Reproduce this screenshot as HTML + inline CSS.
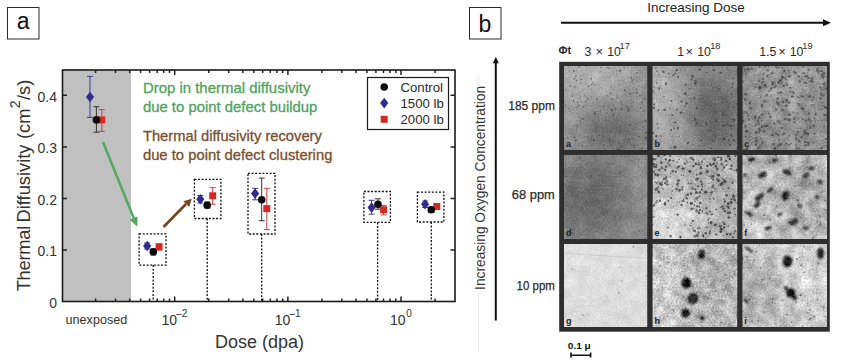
<!DOCTYPE html>
<html><head><meta charset="utf-8"><style>
html,body{margin:0;padding:0;background:#fff;}
svg{display:block;font-family:"Liberation Sans", sans-serif;}
</style></head><body>
<svg width="844" height="362" viewBox="0 0 844 362">
<rect x="7.5" y="7.5" width="31.5" height="31.5" fill="#fff" stroke="#2a2a2a" stroke-width="1"/>
<text x="23.2" y="29.4" font-size="23" text-anchor="middle" fill="#111">a</text>
<rect x="469.5" y="7.5" width="31.5" height="31.5" fill="#fff" stroke="#2a2a2a" stroke-width="1"/>
<text x="484.8" y="31.5" font-size="23" text-anchor="middle" fill="#111">b</text>
<rect x="62.5" y="70.0" width="68.5" height="231.5" fill="#c0c0c0"/>
<path d="M95.6,301.5v-3M95.6,70.0v3M115.5,301.5v-3M115.5,70.0v3M129.7,301.5v-3M129.7,70.0v3M140.6,301.5v-3M140.6,70.0v3M149.6,301.5v-3M149.6,70.0v3M157.2,301.5v-3M157.2,70.0v3M163.7,301.5v-3M163.7,70.0v3M169.5,301.5v-3M169.5,70.0v3M174.7,301.5v-5M174.7,70.0v5M208.8,301.5v-3M208.8,70.0v3M228.7,301.5v-3M228.7,70.0v3M242.8,301.5v-3M242.8,70.0v3M253.8,301.5v-3M253.8,70.0v3M262.7,301.5v-3M262.7,70.0v3M270.3,301.5v-3M270.3,70.0v3M276.9,301.5v-3M276.9,70.0v3M282.7,301.5v-3M282.7,70.0v3M287.9,301.5v-5M287.9,70.0v5M321.9,301.5v-3M321.9,70.0v3M341.8,301.5v-3M341.8,70.0v3M356.0,301.5v-3M356.0,70.0v3M366.9,301.5v-3M366.9,70.0v3M375.9,301.5v-3M375.9,70.0v3M383.5,301.5v-3M383.5,70.0v3M390.0,301.5v-3M390.0,70.0v3M395.8,301.5v-3M395.8,70.0v3M401.0,301.5v-5M401.0,70.0v5M435.1,301.5v-3M435.1,70.0v3M62.5,249.9h4.5M455.0,249.9h-4.5M62.5,198.4h4.5M455.0,198.4h-4.5M62.5,146.9h4.5M455.0,146.9h-4.5M62.5,95.3h4.5M455.0,95.3h-4.5" stroke="#222" stroke-width="1.5" fill="none"/>
<rect x="139.1" y="233.8" width="26.9" height="31.3" fill="none" stroke="#111" stroke-width="1.3" stroke-dasharray="2,1.6"/>
<path d="M153.2,265.1V301.5" stroke="#111" stroke-width="1.3" stroke-dasharray="2,1.6"/>
<rect x="194.4" y="179.4" width="26.5" height="39.1" fill="none" stroke="#111" stroke-width="1.3" stroke-dasharray="2,1.6"/>
<path d="M207.2,218.5V301.5" stroke="#111" stroke-width="1.3" stroke-dasharray="2,1.6"/>
<rect x="248" y="173.3" width="27.0" height="60.7" fill="none" stroke="#111" stroke-width="1.3" stroke-dasharray="2,1.6"/>
<path d="M261.7,234V301.5" stroke="#111" stroke-width="1.3" stroke-dasharray="2,1.6"/>
<rect x="363.9" y="191.5" width="26.5" height="30.9" fill="none" stroke="#111" stroke-width="1.3" stroke-dasharray="2,1.6"/>
<path d="M377.6,222.4V301.5" stroke="#111" stroke-width="1.3" stroke-dasharray="2,1.6"/>
<rect x="417.4" y="192.1" width="26.5" height="29.9" fill="none" stroke="#111" stroke-width="1.3" stroke-dasharray="2,1.6"/>
<path d="M431.3,222V301.5" stroke="#111" stroke-width="1.3" stroke-dasharray="2,1.6"/>
<path d="M90,76.4V117.3M87.0,76.4h6M87.0,117.3h6" stroke="#3c3a9a" stroke-width="1" fill="none"/>
<path d="M101.8,109.6V131.4M98.8,109.6h6M98.8,131.4h6" stroke="#c84040" stroke-width="1" fill="none"/>
<path d="M96.4,106.7V132.2M93.4,106.7h6M93.4,132.2h6" stroke="#333" stroke-width="1" fill="none"/>
<path d="M90,91.7L94.1,97L90,102.3L85.9,97Z" fill="#2f2c8c"/>
<rect x="98.3" y="116.4" width="7" height="7" fill="#d42a22"/>
<circle cx="96.4" cy="119.9" r="3.8" fill="#0a0a0a"/>
<path d="M147.2,243V249M144.2,243h6M144.2,249h6" stroke="#3c3a9a" stroke-width="1" fill="none"/>
<path d="M159.1,244V250M156.1,244h6M156.1,250h6" stroke="#c84040" stroke-width="1" fill="none"/>
<path d="M153.3,249V255M150.3,249h6M150.3,255h6" stroke="#333" stroke-width="1" fill="none"/>
<path d="M147.2,240.7L151.29999999999998,246L147.2,251.3L143.1,246Z" fill="#2f2c8c"/>
<rect x="155.6" y="243.3" width="7" height="7" fill="#d42a22"/>
<circle cx="153.3" cy="251.8" r="3.8" fill="#0a0a0a"/>
<path d="M200.3,195.5V203M197.3,195.5h6M197.3,203h6" stroke="#3c3a9a" stroke-width="1" fill="none"/>
<path d="M212.7,187.6V204.2M209.7,187.6h6M209.7,204.2h6" stroke="#c84040" stroke-width="1" fill="none"/>
<path d="M207.2,202V208M204.2,202h6M204.2,208h6" stroke="#333" stroke-width="1" fill="none"/>
<path d="M200.3,194.0L204.4,199.3L200.3,204.60000000000002L196.20000000000002,199.3Z" fill="#2f2c8c"/>
<rect x="209.2" y="192.3" width="7" height="7" fill="#d42a22"/>
<circle cx="207.2" cy="205.3" r="3.8" fill="#0a0a0a"/>
<path d="M255.1,188.3V199.8M252.1,188.3h6M252.1,199.8h6" stroke="#3c3a9a" stroke-width="1" fill="none"/>
<path d="M266.8,188.3V229.6M263.8,188.3h6M263.8,229.6h6" stroke="#c84040" stroke-width="1" fill="none"/>
<path d="M261.7,178.1V220.7M258.7,178.1h6M258.7,220.7h6" stroke="#333" stroke-width="1" fill="none"/>
<path d="M255.1,188.29999999999998L259.2,193.6L255.1,198.9L251.0,193.6Z" fill="#2f2c8c"/>
<rect x="263.3" y="205.1" width="7" height="7" fill="#d42a22"/>
<circle cx="261.7" cy="199.8" r="3.8" fill="#0a0a0a"/>
<path d="M371.6,200.3V214.2M368.6,200.3h6M368.6,214.2h6" stroke="#3c3a9a" stroke-width="1" fill="none"/>
<path d="M383.6,205.4V214.9M380.6,205.4h6M380.6,214.9h6" stroke="#c84040" stroke-width="1" fill="none"/>
<path d="M378,198.8V209.2M375.0,198.8h6M375.0,209.2h6" stroke="#333" stroke-width="1" fill="none"/>
<path d="M371.6,202.29999999999998L375.70000000000005,207.6L371.6,212.9L367.5,207.6Z" fill="#2f2c8c"/>
<rect x="380.1" y="206.3" width="7" height="7" fill="#d42a22"/>
<circle cx="378" cy="204.3" r="3.8" fill="#0a0a0a"/>
<path d="M425.1,201V207.5M422.1,201h6M422.1,207.5h6" stroke="#3c3a9a" stroke-width="1" fill="none"/>
<path d="M436.8,204V209M433.8,204h6M433.8,209h6" stroke="#c84040" stroke-width="1" fill="none"/>
<path d="M431.3,207V212.5M428.3,207h6M428.3,212.5h6" stroke="#333" stroke-width="1" fill="none"/>
<path d="M425.1,199.0L429.20000000000005,204.3L425.1,209.60000000000002L421.0,204.3Z" fill="#2f2c8c"/>
<rect x="433.3" y="203.0" width="7" height="7" fill="#d42a22"/>
<circle cx="431.3" cy="209.8" r="3.8" fill="#0a0a0a"/>
<rect x="62.5" y="70.0" width="392.5" height="231.5" fill="none" stroke="#1a1a1a" stroke-width="1.6"/>
<path d="M103,142L134.5,220" stroke="#52a85e" stroke-width="2.5"/>
<path d="M137.2,226.5L129.5,219.5L137.5,216.5Z" fill="#52a85e"/>
<path d="M163.5,227L186,204" stroke="#72441f" stroke-width="2.6"/>
<path d="M191.8,198.7L183.3,201.2L189.2,207.1Z" fill="#72441f"/>
<rect x="367.5" y="77.5" width="81" height="52" fill="#fff" stroke="#1a1a1a" stroke-width="1.2"/>
<circle cx="384.2" cy="87" r="3.8" fill="#0a0a0a"/>
<path d="M384.2,97.8L388.3,103.1L384.2,108.39999999999999L380.09999999999997,103.1Z" fill="#2f2c8c"/>
<rect x="380.7" y="115.8" width="7" height="7" fill="#d42a22"/>
<text x="400.5" y="91.8" font-size="13.2" fill="#2a2a2a">Control</text>
<text x="400.5" y="107.9" font-size="13.2" fill="#2a2a2a">1500 lb</text>
<text x="400.5" y="124.1" font-size="13.2" fill="#2a2a2a">2000 lb</text>
<text x="142.9" y="93.1" font-size="14.3" fill="#4fa35c" stroke="#4fa35c" stroke-width="0.3" textLength="167.5" lengthAdjust="spacingAndGlyphs">Drop in thermal diffusivity</text>
<text x="142.9" y="112.2" font-size="14.3" fill="#4fa35c" stroke="#4fa35c" stroke-width="0.3" textLength="174.5" lengthAdjust="spacingAndGlyphs">due to point defect buildup</text>
<text x="142.9" y="140.8" font-size="14.3" fill="#7a4f2e" stroke="#7a4f2e" stroke-width="0.3" textLength="179" lengthAdjust="spacingAndGlyphs">Thermal diffusivity recovery</text>
<text x="142.9" y="160.2" font-size="14.3" fill="#7a4f2e" stroke="#7a4f2e" stroke-width="0.3" textLength="189.5" lengthAdjust="spacingAndGlyphs">due to point defect clustering</text>
<text x="57" y="307.8" font-size="14" text-anchor="end" fill="#333">0</text>
<text x="57" y="256.2" font-size="14" text-anchor="end" fill="#333">0.1</text>
<text x="57" y="204.7" font-size="14" text-anchor="end" fill="#333">0.2</text>
<text x="57" y="153.2" font-size="14" text-anchor="end" fill="#333">0.3</text>
<text x="57" y="101.6" font-size="14" text-anchor="end" fill="#333">0.4</text>
<text transform="translate(29.6,291.2) rotate(-90)" font-size="18.3" fill="#333"><tspan x="-0.1" textLength="65.6" lengthAdjust="spacing">Thermal</tspan><tspan x="68.8">Diffusivity</tspan><tspan x="152.2">(cm</tspan><tspan font-size="14.3" dy="-9.3" dx="0.3">2</tspan><tspan dy="9.3" dx="0.3">/s)</tspan></text>
<text x="65.6" y="323.5" font-size="12.6" fill="#333">unexposed</text>
<text x="161.5" y="325.2" font-size="14" fill="#333">10<tspan font-size="10" dy="-8" dx="-0.8">–2</tspan></text>
<text x="274.7" y="325.2" font-size="14" fill="#333">10<tspan font-size="10" dy="-8" dx="-0.8">–1</tspan></text>
<text x="390.0" y="325.2" font-size="14" fill="#333">10<tspan font-size="10" dy="-8" dx="0.6">0</tspan></text>
<text x="215" y="347.5" font-size="18" fill="#333">Dose (dpa)</text>
<text x="696" y="11.8" font-size="13.5" text-anchor="middle" fill="#222">Increasing Dose</text>
<path d="M561,22.8H825" stroke="#111" stroke-width="2"/><path d="M831,22.8L823,19.3L823,26.3Z" fill="#111"/>
<path d="M495.8,320.5V62" stroke="#111" stroke-width="2"/><path d="M495.8,56.8L492.8,63.2L498.8,63.2Z" fill="#111"/><path d="M478.5,293V352M478.5,75V86" stroke="#e4e4e4" stroke-width="0.8"/>
<text transform="translate(485,289.9) rotate(-90)" font-size="13.75" fill="#333">Increasing Oxygen Concentration</text>
<text x="558.6" y="53.8" font-size="11" font-weight="bold" fill="#2a2a2a">Φt</text>
<text x="584.4" y="55.7" font-size="12.3" fill="#2a2a2a" text-anchor="start" >3</text>
<text x="595.6" y="55.5" font-size="13" fill="#2a2a2a" text-anchor="start" >×</text>
<text x="607.2" y="55.7" font-size="12.3" fill="#2a2a2a" text-anchor="start" >10</text>
<text x="619.6" y="49.3" font-size="9.2" fill="#2a2a2a" text-anchor="start" >17</text>
<text x="677.3" y="55.7" font-size="12.3" fill="#2a2a2a" text-anchor="start" >1</text>
<text x="685.4" y="55.5" font-size="13" fill="#2a2a2a" text-anchor="start" >×</text>
<text x="697.2" y="55.7" font-size="12.3" fill="#2a2a2a" text-anchor="start" >10</text>
<text x="710.2" y="49.3" font-size="9.2" fill="#2a2a2a" text-anchor="start" >18</text>
<text x="759.2" y="55.7" font-size="12.3" fill="#2a2a2a" text-anchor="start" >1.5</text>
<text x="778.2" y="55.5" font-size="13" fill="#2a2a2a" text-anchor="start" >×</text>
<text x="789.7" y="55.7" font-size="12.3" fill="#2a2a2a" text-anchor="start" >10</text>
<text x="802.3" y="49.3" font-size="9.2" fill="#2a2a2a" text-anchor="start" >19</text>
<text x="508.3" y="109.5" font-size="12.5" fill="#2a2a2a" stroke="#2a2a2a" stroke-width="0.25" textLength="46.6" lengthAdjust="spacingAndGlyphs">185 ppm</text>
<text x="511.8" y="198.6" font-size="12.5" fill="#2a2a2a" stroke="#2a2a2a" stroke-width="0.25" textLength="43" lengthAdjust="spacingAndGlyphs">68 ppm</text>
<text x="516.6" y="290.3" font-size="12.5" fill="#2a2a2a" stroke="#2a2a2a" stroke-width="0.25" textLength="38.2" lengthAdjust="spacingAndGlyphs">10 ppm</text>
<text x="567.8" y="348.7" font-size="9.6" font-weight="bold" fill="#111" textLength="23" lengthAdjust="spacingAndGlyphs">0.1 μ</text>
<path d="M571,355.3H590.6M571,352.4V357.4M590.6,352.4V357.4" stroke="#111" stroke-width="1.6"/>
<rect x="559.2" y="61.8" width="270.6" height="269.9" fill="#2e2e2e"/>
<defs><filter id="b12" x="-50%" y="-50%" width="200%" height="200%"><feGaussianBlur stdDeviation="12"/></filter><filter id="b1" x="-50%" y="-50%" width="200%" height="200%"><feGaussianBlur stdDeviation="0.8"/></filter><filter id="b05" x="-50%" y="-50%" width="200%" height="200%"><feGaussianBlur stdDeviation="0.65"/></filter><clipPath id="c00"><rect x="564" y="66" width="83.5" height="84"/></clipPath><filter id="t00" x="0" y="0" width="100%" height="100%" color-interpolation-filters="sRGB"><feTurbulence type="fractalNoise" baseFrequency="0.55" numOctaves="2" seed="3" result="t1"/><feColorMatrix in="t1" type="matrix" values="1 0 0 0 0 1 0 0 0 0 1 0 0 0 0 0 0 0 0 1" result="n0"/><feGaussianBlur in="n0" stdDeviation="0.45" result="n1"/><feTurbulence type="fractalNoise" baseFrequency="0.09" numOctaves="3" seed="14" result="t2"/><feColorMatrix in="t2" type="matrix" values="1 0 0 0 0 1 0 0 0 0 1 0 0 0 0 0 0 0 0 1" result="n2"/><feComposite in="SourceGraphic" in2="n1" operator="arithmetic" k1="0" k2="1" k3="0.2" k4="-0.1" result="s1"/><feComposite in="s1" in2="n2" operator="arithmetic" k1="0" k2="1" k3="0.15" k4="-0.075" result="s2"/><feGaussianBlur in="s2" stdDeviation="0.45"/></filter><clipPath id="c01"><rect x="652.5" y="66" width="85.0" height="84"/></clipPath><filter id="t01" x="0" y="0" width="100%" height="100%" color-interpolation-filters="sRGB"><feTurbulence type="fractalNoise" baseFrequency="0.55" numOctaves="2" seed="4" result="t1"/><feColorMatrix in="t1" type="matrix" values="1 0 0 0 0 1 0 0 0 0 1 0 0 0 0 0 0 0 0 1" result="n0"/><feGaussianBlur in="n0" stdDeviation="0.45" result="n1"/><feTurbulence type="fractalNoise" baseFrequency="0.09" numOctaves="3" seed="15" result="t2"/><feColorMatrix in="t2" type="matrix" values="1 0 0 0 0 1 0 0 0 0 1 0 0 0 0 0 0 0 0 1" result="n2"/><feComposite in="SourceGraphic" in2="n1" operator="arithmetic" k1="0" k2="1" k3="0.2" k4="-0.1" result="s1"/><feComposite in="s1" in2="n2" operator="arithmetic" k1="0" k2="1" k3="0.15" k4="-0.075" result="s2"/><feGaussianBlur in="s2" stdDeviation="0.45"/></filter><clipPath id="c02"><rect x="742.3" y="66" width="84.70000000000005" height="84"/></clipPath><filter id="t02" x="0" y="0" width="100%" height="100%" color-interpolation-filters="sRGB"><feTurbulence type="fractalNoise" baseFrequency="0.55" numOctaves="2" seed="5" result="t1"/><feColorMatrix in="t1" type="matrix" values="1 0 0 0 0 1 0 0 0 0 1 0 0 0 0 0 0 0 0 1" result="n0"/><feGaussianBlur in="n0" stdDeviation="0.45" result="n1"/><feTurbulence type="fractalNoise" baseFrequency="0.09" numOctaves="3" seed="16" result="t2"/><feColorMatrix in="t2" type="matrix" values="1 0 0 0 0 1 0 0 0 0 1 0 0 0 0 0 0 0 0 1" result="n2"/><feComposite in="SourceGraphic" in2="n1" operator="arithmetic" k1="0" k2="1" k3="0.25" k4="-0.125" result="s1"/><feComposite in="s1" in2="n2" operator="arithmetic" k1="0" k2="1" k3="0.3" k4="-0.15" result="s2"/><feGaussianBlur in="s2" stdDeviation="0.45"/></filter><clipPath id="c10"><rect x="564" y="154.8" width="83.5" height="84.19999999999999"/></clipPath><filter id="t10" x="0" y="0" width="100%" height="100%" color-interpolation-filters="sRGB"><feTurbulence type="fractalNoise" baseFrequency="0.55" numOctaves="2" seed="6" result="t1"/><feColorMatrix in="t1" type="matrix" values="1 0 0 0 0 1 0 0 0 0 1 0 0 0 0 0 0 0 0 1" result="n0"/><feGaussianBlur in="n0" stdDeviation="0.45" result="n1"/><feTurbulence type="fractalNoise" baseFrequency="0.09" numOctaves="3" seed="17" result="t2"/><feColorMatrix in="t2" type="matrix" values="1 0 0 0 0 1 0 0 0 0 1 0 0 0 0 0 0 0 0 1" result="n2"/><feComposite in="SourceGraphic" in2="n1" operator="arithmetic" k1="0" k2="1" k3="0.2" k4="-0.1" result="s1"/><feComposite in="s1" in2="n2" operator="arithmetic" k1="0" k2="1" k3="0.15" k4="-0.075" result="s2"/><feGaussianBlur in="s2" stdDeviation="0.45"/></filter><clipPath id="c11"><rect x="652.5" y="154.8" width="85.0" height="84.19999999999999"/></clipPath><filter id="t11" x="0" y="0" width="100%" height="100%" color-interpolation-filters="sRGB"><feTurbulence type="fractalNoise" baseFrequency="0.55" numOctaves="2" seed="7" result="t1"/><feColorMatrix in="t1" type="matrix" values="1 0 0 0 0 1 0 0 0 0 1 0 0 0 0 0 0 0 0 1" result="n0"/><feGaussianBlur in="n0" stdDeviation="0.45" result="n1"/><feTurbulence type="fractalNoise" baseFrequency="0.09" numOctaves="3" seed="18" result="t2"/><feColorMatrix in="t2" type="matrix" values="1 0 0 0 0 1 0 0 0 0 1 0 0 0 0 0 0 0 0 1" result="n2"/><feComposite in="SourceGraphic" in2="n1" operator="arithmetic" k1="0" k2="1" k3="0.3" k4="-0.15" result="s1"/><feComposite in="s1" in2="n2" operator="arithmetic" k1="0" k2="1" k3="0.3" k4="-0.15" result="s2"/><feGaussianBlur in="s2" stdDeviation="0.45"/></filter><clipPath id="c12"><rect x="742.3" y="154.8" width="84.70000000000005" height="84.19999999999999"/></clipPath><filter id="t12" x="0" y="0" width="100%" height="100%" color-interpolation-filters="sRGB"><feTurbulence type="fractalNoise" baseFrequency="0.55" numOctaves="2" seed="8" result="t1"/><feColorMatrix in="t1" type="matrix" values="1 0 0 0 0 1 0 0 0 0 1 0 0 0 0 0 0 0 0 1" result="n0"/><feGaussianBlur in="n0" stdDeviation="0.45" result="n1"/><feTurbulence type="fractalNoise" baseFrequency="0.09" numOctaves="3" seed="19" result="t2"/><feColorMatrix in="t2" type="matrix" values="1 0 0 0 0 1 0 0 0 0 1 0 0 0 0 0 0 0 0 1" result="n2"/><feComposite in="SourceGraphic" in2="n1" operator="arithmetic" k1="0" k2="1" k3="0.3" k4="-0.15" result="s1"/><feComposite in="s1" in2="n2" operator="arithmetic" k1="0" k2="1" k3="0.45" k4="-0.225" result="s2"/><feGaussianBlur in="s2" stdDeviation="0.45"/></filter><clipPath id="c20"><rect x="564" y="244" width="83.5" height="83"/></clipPath><filter id="t20" x="0" y="0" width="100%" height="100%" color-interpolation-filters="sRGB"><feTurbulence type="fractalNoise" baseFrequency="0.55" numOctaves="2" seed="9" result="t1"/><feColorMatrix in="t1" type="matrix" values="1 0 0 0 0 1 0 0 0 0 1 0 0 0 0 0 0 0 0 1" result="n0"/><feGaussianBlur in="n0" stdDeviation="0.45" result="n1"/><feTurbulence type="fractalNoise" baseFrequency="0.09" numOctaves="3" seed="20" result="t2"/><feColorMatrix in="t2" type="matrix" values="1 0 0 0 0 1 0 0 0 0 1 0 0 0 0 0 0 0 0 1" result="n2"/><feComposite in="SourceGraphic" in2="n1" operator="arithmetic" k1="0" k2="1" k3="0.15" k4="-0.075" result="s1"/><feComposite in="s1" in2="n2" operator="arithmetic" k1="0" k2="1" k3="0.12" k4="-0.06" result="s2"/><feGaussianBlur in="s2" stdDeviation="0.45"/></filter><clipPath id="c21"><rect x="652.5" y="244" width="85.0" height="83"/></clipPath><filter id="t21" x="0" y="0" width="100%" height="100%" color-interpolation-filters="sRGB"><feTurbulence type="fractalNoise" baseFrequency="0.55" numOctaves="2" seed="10" result="t1"/><feColorMatrix in="t1" type="matrix" values="1 0 0 0 0 1 0 0 0 0 1 0 0 0 0 0 0 0 0 1" result="n0"/><feGaussianBlur in="n0" stdDeviation="0.45" result="n1"/><feTurbulence type="fractalNoise" baseFrequency="0.09" numOctaves="3" seed="21" result="t2"/><feColorMatrix in="t2" type="matrix" values="1 0 0 0 0 1 0 0 0 0 1 0 0 0 0 0 0 0 0 1" result="n2"/><feComposite in="SourceGraphic" in2="n1" operator="arithmetic" k1="0" k2="1" k3="0.4" k4="-0.2" result="s1"/><feComposite in="s1" in2="n2" operator="arithmetic" k1="0" k2="1" k3="0.45" k4="-0.225" result="s2"/><feGaussianBlur in="s2" stdDeviation="0.45"/></filter><clipPath id="c22"><rect x="742.3" y="244" width="84.70000000000005" height="83"/></clipPath><filter id="t22" x="0" y="0" width="100%" height="100%" color-interpolation-filters="sRGB"><feTurbulence type="fractalNoise" baseFrequency="0.55" numOctaves="2" seed="11" result="t1"/><feColorMatrix in="t1" type="matrix" values="1 0 0 0 0 1 0 0 0 0 1 0 0 0 0 0 0 0 0 1" result="n0"/><feGaussianBlur in="n0" stdDeviation="0.45" result="n1"/><feTurbulence type="fractalNoise" baseFrequency="0.09" numOctaves="3" seed="22" result="t2"/><feColorMatrix in="t2" type="matrix" values="1 0 0 0 0 1 0 0 0 0 1 0 0 0 0 0 0 0 0 1" result="n2"/><feComposite in="SourceGraphic" in2="n1" operator="arithmetic" k1="0" k2="1" k3="0.3" k4="-0.15" result="s1"/><feComposite in="s1" in2="n2" operator="arithmetic" k1="0" k2="1" k3="0.35" k4="-0.175" result="s2"/><feGaussianBlur in="s2" stdDeviation="0.45"/></filter></defs>
<g clip-path="url(#c00)"><g filter="url(#t00)"><rect x="564" y="66" width="83.5" height="84" fill="#929292"/><g filter="url(#b12)"><ellipse cx="589.0" cy="70.2" rx="41.8" ry="25.2" fill="#b4b4b4" opacity="0.95"/><ellipse cx="564.0" cy="91.2" rx="16.7" ry="33.6" fill="#aaaaaa" opacity="0.7"/><ellipse cx="614.1" cy="133.2" rx="33.4" ry="25.2" fill="#6c6c6c" opacity="0.95"/><ellipse cx="643.3" cy="99.6" rx="16.7" ry="25.2" fill="#8a8a8a" opacity="0.6"/></g><g fill="#3a3a3a" opacity="0.6" filter="url(#b05)"><circle cx="591.0" cy="78.7" r="0.86"/><circle cx="570.0" cy="111.0" r="0.75"/><circle cx="568.8" cy="108.6" r="0.61"/><circle cx="600.2" cy="71.9" r="0.64"/><circle cx="599.4" cy="135.5" r="0.65"/><circle cx="582.6" cy="118.7" r="0.98"/><circle cx="612.2" cy="99.3" r="0.99"/><circle cx="567.9" cy="138.1" r="0.72"/><circle cx="576.0" cy="75.9" r="0.72"/><circle cx="632.1" cy="81.2" r="0.83"/><circle cx="617.3" cy="97.3" r="0.82"/><circle cx="569.2" cy="71.0" r="0.68"/><circle cx="620.8" cy="101.9" r="0.73"/><circle cx="612.9" cy="104.1" r="0.72"/><circle cx="630.3" cy="124.7" r="0.70"/><circle cx="612.0" cy="110.1" r="0.95"/><circle cx="624.9" cy="90.2" r="0.99"/><circle cx="573.9" cy="101.1" r="0.90"/><circle cx="576.7" cy="107.1" r="0.62"/><circle cx="619.8" cy="130.2" r="0.83"/><circle cx="637.1" cy="92.4" r="0.88"/><circle cx="613.6" cy="114.7" r="0.78"/><circle cx="634.1" cy="145.4" r="0.79"/><circle cx="619.5" cy="71.1" r="0.88"/><circle cx="618.0" cy="149.4" r="0.93"/><circle cx="587.8" cy="98.4" r="0.87"/><circle cx="565.9" cy="104.8" r="0.67"/><circle cx="573.8" cy="71.0" r="0.91"/><circle cx="574.8" cy="86.8" r="0.76"/><circle cx="636.8" cy="72.8" r="0.78"/><circle cx="609.9" cy="140.2" r="0.93"/><circle cx="636.1" cy="89.4" r="0.77"/><circle cx="594.0" cy="140.3" r="0.98"/><circle cx="576.6" cy="80.8" r="0.69"/><circle cx="583.5" cy="106.7" r="0.84"/><circle cx="585.9" cy="66.3" r="0.77"/><circle cx="594.8" cy="113.6" r="0.98"/><circle cx="621.7" cy="109.3" r="0.85"/><circle cx="620.5" cy="70.5" r="0.96"/><circle cx="629.1" cy="139.5" r="0.92"/><circle cx="596.8" cy="99.5" r="0.64"/><circle cx="617.0" cy="71.2" r="0.63"/><circle cx="581.4" cy="79.6" r="0.74"/><circle cx="568.4" cy="66.0" r="0.66"/><circle cx="572.5" cy="96.5" r="0.61"/><circle cx="637.0" cy="117.6" r="0.66"/><circle cx="585.1" cy="95.2" r="0.75"/><circle cx="574.3" cy="137.3" r="1.00"/><circle cx="602.9" cy="106.6" r="0.63"/><circle cx="572.5" cy="94.8" r="0.71"/><circle cx="633.2" cy="79.6" r="0.61"/><circle cx="643.4" cy="110.4" r="0.66"/><circle cx="609.4" cy="68.3" r="0.81"/><circle cx="645.7" cy="138.5" r="0.88"/><circle cx="585.8" cy="96.8" r="0.67"/><circle cx="628.5" cy="110.7" r="0.91"/><circle cx="591.5" cy="84.7" r="0.92"/><circle cx="646.2" cy="137.6" r="0.92"/><circle cx="632.3" cy="128.1" r="0.69"/><circle cx="607.2" cy="95.9" r="0.61"/><circle cx="566.3" cy="89.5" r="0.70"/><circle cx="621.8" cy="146.3" r="0.78"/><circle cx="642.2" cy="149.0" r="0.98"/><circle cx="594.4" cy="84.5" r="0.69"/><circle cx="580.4" cy="83.2" r="0.85"/><circle cx="639.2" cy="136.6" r="0.79"/><circle cx="618.5" cy="133.2" r="0.63"/><circle cx="619.2" cy="142.4" r="0.91"/><circle cx="626.6" cy="106.2" r="0.67"/><circle cx="629.9" cy="93.9" r="0.92"/><circle cx="645.1" cy="99.3" r="0.76"/><circle cx="643.1" cy="126.9" r="0.67"/><circle cx="574.6" cy="78.7" r="0.96"/><circle cx="631.3" cy="78.3" r="0.93"/><circle cx="645.9" cy="121.2" r="0.74"/><circle cx="609.8" cy="77.0" r="0.61"/><circle cx="645.1" cy="120.6" r="0.81"/><circle cx="642.0" cy="102.4" r="0.95"/><circle cx="633.0" cy="83.7" r="0.70"/><circle cx="588.5" cy="86.2" r="0.83"/><circle cx="585.7" cy="101.2" r="0.65"/><circle cx="640.0" cy="95.7" r="0.78"/><circle cx="612.7" cy="142.0" r="0.77"/><circle cx="640.6" cy="108.1" r="0.81"/><circle cx="607.7" cy="67.6" r="0.78"/><circle cx="579.3" cy="66.3" r="0.92"/><circle cx="578.4" cy="105.8" r="0.89"/><circle cx="610.5" cy="93.4" r="0.81"/><circle cx="610.4" cy="131.9" r="0.64"/><circle cx="610.8" cy="86.9" r="0.71"/><circle cx="628.5" cy="108.6" r="0.82"/><circle cx="627.5" cy="142.6" r="0.78"/><circle cx="615.1" cy="108.5" r="0.80"/><circle cx="621.8" cy="104.0" r="0.81"/><circle cx="603.9" cy="145.1" r="0.88"/><circle cx="637.2" cy="145.1" r="0.70"/><circle cx="610.7" cy="145.2" r="0.94"/><circle cx="575.5" cy="76.2" r="0.78"/><circle cx="570.1" cy="86.2" r="0.63"/><circle cx="619.9" cy="131.9" r="0.96"/><circle cx="576.9" cy="126.2" r="0.86"/><circle cx="575.9" cy="140.2" r="0.99"/><circle cx="582.3" cy="146.0" r="0.76"/><circle cx="604.7" cy="149.1" r="0.93"/><circle cx="577.5" cy="102.2" r="0.81"/><circle cx="592.3" cy="82.4" r="0.73"/><circle cx="624.3" cy="67.6" r="0.82"/><circle cx="600.8" cy="67.5" r="0.73"/><circle cx="616.1" cy="109.0" r="0.63"/><circle cx="646.3" cy="132.2" r="0.99"/></g></g><text x="566" y="147" font-size="9" font-weight="bold" fill="#222">a</text></g><g clip-path="url(#c01)"><g filter="url(#t01)"><rect x="652.5" y="66" width="85.0" height="84" fill="#8a8a8a"/><g filter="url(#b12)"><ellipse cx="656.8" cy="95.4" rx="25.5" ry="46.2" fill="#b0b0b0" opacity="1"/><ellipse cx="669.5" cy="145.8" rx="25.5" ry="16.8" fill="#aaaaaa" opacity="0.85"/><ellipse cx="712.0" cy="116.4" rx="25.5" ry="37.8" fill="#626262" opacity="0.95"/><ellipse cx="703.5" cy="70.2" rx="25.5" ry="12.6" fill="#8a8a8a" opacity="0.5"/></g><g fill="#333" opacity="0.65" filter="url(#b05)"><circle cx="661.4" cy="88.3" r="0.62"/><circle cx="718.7" cy="88.7" r="0.68"/><circle cx="688.4" cy="142.6" r="1.09"/><circle cx="687.6" cy="143.6" r="0.76"/><circle cx="701.0" cy="124.8" r="0.65"/><circle cx="657.4" cy="123.8" r="0.86"/><circle cx="658.7" cy="144.8" r="0.98"/><circle cx="720.6" cy="73.0" r="1.11"/><circle cx="721.5" cy="72.9" r="0.78"/><circle cx="681.3" cy="112.5" r="1.16"/><circle cx="680.4" cy="112.5" r="0.81"/><circle cx="672.8" cy="75.2" r="0.70"/><circle cx="656.8" cy="82.9" r="0.79"/><circle cx="678.4" cy="129.8" r="0.77"/><circle cx="695.0" cy="80.9" r="0.81"/><circle cx="654.0" cy="87.0" r="0.61"/><circle cx="714.8" cy="112.3" r="0.71"/><circle cx="692.9" cy="144.5" r="0.66"/><circle cx="722.1" cy="102.3" r="0.90"/><circle cx="723.4" cy="99.0" r="0.90"/><circle cx="711.0" cy="148.5" r="0.81"/><circle cx="723.2" cy="125.4" r="0.98"/><circle cx="686.9" cy="95.2" r="0.63"/><circle cx="663.5" cy="71.9" r="1.04"/><circle cx="662.7" cy="70.9" r="0.73"/><circle cx="724.0" cy="139.1" r="1.00"/><circle cx="723.4" cy="138.6" r="0.70"/><circle cx="691.6" cy="79.2" r="0.87"/><circle cx="674.9" cy="146.8" r="1.18"/><circle cx="674.3" cy="147.9" r="0.83"/><circle cx="678.8" cy="96.0" r="0.60"/><circle cx="684.9" cy="105.9" r="0.90"/><circle cx="669.6" cy="108.4" r="0.60"/><circle cx="675.0" cy="73.5" r="0.84"/><circle cx="656.0" cy="67.9" r="0.78"/><circle cx="672.3" cy="115.2" r="0.92"/><circle cx="716.3" cy="121.2" r="1.03"/><circle cx="685.6" cy="93.4" r="1.19"/><circle cx="686.1" cy="93.7" r="0.83"/><circle cx="656.2" cy="136.2" r="1.14"/><circle cx="714.9" cy="134.2" r="0.68"/><circle cx="697.0" cy="108.4" r="1.10"/><circle cx="722.7" cy="115.1" r="1.14"/><circle cx="711.4" cy="85.3" r="0.62"/><circle cx="663.8" cy="96.3" r="0.66"/><circle cx="723.5" cy="112.9" r="0.98"/><circle cx="705.7" cy="123.2" r="0.89"/><circle cx="652.8" cy="133.0" r="1.05"/><circle cx="652.9" cy="133.4" r="0.73"/><circle cx="658.1" cy="127.9" r="0.75"/><circle cx="658.8" cy="88.3" r="1.04"/><circle cx="659.4" cy="89.4" r="0.73"/><circle cx="694.5" cy="98.1" r="0.89"/><circle cx="710.6" cy="130.4" r="0.97"/><circle cx="707.1" cy="72.5" r="0.69"/><circle cx="674.1" cy="128.4" r="0.78"/><circle cx="700.8" cy="67.0" r="0.64"/><circle cx="675.3" cy="122.4" r="1.02"/><circle cx="677.2" cy="109.4" r="0.88"/><circle cx="692.1" cy="76.0" r="1.14"/><circle cx="693.3" cy="77.0" r="0.80"/><circle cx="654.0" cy="104.6" r="1.09"/><circle cx="690.7" cy="88.6" r="0.73"/><circle cx="732.9" cy="83.7" r="0.95"/><circle cx="664.5" cy="110.0" r="1.17"/><circle cx="665.3" cy="110.0" r="0.82"/><circle cx="727.9" cy="125.1" r="0.74"/><circle cx="728.8" cy="106.8" r="0.61"/><circle cx="652.8" cy="107.3" r="0.87"/><circle cx="678.2" cy="77.8" r="0.81"/><circle cx="679.4" cy="136.6" r="0.60"/><circle cx="716.3" cy="136.5" r="0.67"/><circle cx="731.2" cy="125.9" r="1.14"/><circle cx="730.9" cy="125.6" r="0.80"/><circle cx="737.4" cy="115.5" r="0.82"/><circle cx="688.9" cy="89.1" r="0.63"/><circle cx="661.1" cy="136.1" r="0.77"/><circle cx="732.0" cy="86.9" r="0.76"/><circle cx="695.9" cy="81.9" r="0.82"/><circle cx="733.8" cy="140.3" r="1.09"/><circle cx="730.1" cy="145.0" r="0.93"/><circle cx="713.7" cy="70.2" r="1.04"/><circle cx="714.3" cy="70.5" r="0.73"/><circle cx="676.8" cy="70.1" r="1.16"/><circle cx="676.8" cy="69.7" r="0.81"/><circle cx="677.8" cy="128.1" r="1.19"/><circle cx="678.2" cy="127.6" r="0.83"/><circle cx="699.9" cy="99.1" r="0.70"/><circle cx="666.2" cy="83.5" r="1.14"/><circle cx="665.6" cy="84.4" r="0.80"/><circle cx="737.2" cy="103.8" r="0.68"/><circle cx="668.9" cy="73.6" r="0.81"/><circle cx="660.2" cy="86.1" r="0.76"/><circle cx="700.9" cy="140.5" r="1.05"/><circle cx="700.7" cy="140.6" r="0.73"/><circle cx="684.5" cy="94.4" r="0.64"/><circle cx="676.1" cy="147.3" r="0.68"/><circle cx="695.3" cy="118.9" r="1.12"/><circle cx="694.7" cy="118.3" r="0.78"/><circle cx="686.5" cy="103.5" r="1.17"/><circle cx="726.7" cy="67.8" r="0.62"/><circle cx="712.8" cy="141.2" r="0.88"/><circle cx="702.4" cy="66.0" r="0.83"/><circle cx="731.3" cy="135.3" r="1.11"/><circle cx="673.6" cy="75.2" r="0.69"/><circle cx="696.9" cy="123.3" r="1.16"/><circle cx="707.5" cy="130.2" r="0.87"/><circle cx="699.4" cy="69.3" r="1.07"/><circle cx="700.4" cy="69.7" r="0.75"/><circle cx="678.3" cy="76.7" r="0.75"/><circle cx="706.6" cy="124.7" r="0.67"/><circle cx="658.5" cy="110.1" r="0.95"/><circle cx="685.5" cy="84.8" r="0.96"/><circle cx="653.4" cy="91.3" r="0.88"/><circle cx="734.0" cy="120.1" r="1.13"/><circle cx="733.4" cy="119.5" r="0.79"/><circle cx="734.2" cy="125.2" r="0.78"/><circle cx="654.4" cy="107.9" r="1.00"/><circle cx="653.8" cy="108.3" r="0.70"/><circle cx="731.1" cy="85.1" r="0.62"/><circle cx="681.2" cy="101.3" r="1.01"/><circle cx="681.9" cy="101.9" r="0.71"/><circle cx="695.4" cy="83.2" r="1.18"/><circle cx="696.2" cy="82.6" r="0.83"/><circle cx="671.3" cy="129.9" r="0.78"/><circle cx="733.4" cy="107.6" r="0.71"/><circle cx="671.5" cy="101.0" r="1.00"/><circle cx="733.1" cy="78.3" r="0.84"/><circle cx="670.6" cy="147.8" r="0.69"/><circle cx="656.9" cy="71.1" r="0.84"/><circle cx="728.8" cy="140.2" r="1.04"/><circle cx="731.7" cy="93.7" r="0.71"/><circle cx="732.0" cy="128.7" r="0.62"/></g></g><text x="654.5" y="147" font-size="9" font-weight="bold" fill="#222">b</text></g><g clip-path="url(#c02)"><g filter="url(#t02)"><rect x="742.3" y="66" width="84.70000000000005" height="84" fill="#919191"/><g filter="url(#b12)"><ellipse cx="788.9" cy="91.2" rx="21.2" ry="29.4" fill="#a4a4a4" opacity="0.7"/><ellipse cx="755.0" cy="133.2" rx="25.4" ry="25.2" fill="#838383" opacity="0.6"/><ellipse cx="822.8" cy="108.0" rx="12.7" ry="33.6" fill="#868686" opacity="0.6"/></g><g fill="#404040" opacity="0.6" filter="url(#b05)"><circle cx="798.6" cy="97.8" r="1.02"/><circle cx="797.8" cy="96.6" r="0.72"/><circle cx="766.0" cy="95.5" r="1.37"/><circle cx="767.1" cy="94.8" r="0.96"/><circle cx="772.5" cy="135.0" r="1.29"/><circle cx="771.4" cy="134.9" r="0.91"/><circle cx="773.9" cy="143.2" r="0.92"/><circle cx="773.2" cy="141.3" r="0.82"/><circle cx="777.1" cy="134.2" r="1.26"/><circle cx="776.0" cy="133.1" r="0.88"/><circle cx="820.2" cy="87.6" r="1.25"/><circle cx="771.0" cy="88.9" r="1.37"/><circle cx="764.5" cy="126.2" r="0.99"/><circle cx="765.6" cy="66.3" r="1.25"/><circle cx="796.0" cy="145.2" r="0.81"/><circle cx="762.1" cy="105.9" r="1.37"/><circle cx="775.0" cy="87.1" r="1.06"/><circle cx="776.1" cy="86.3" r="0.74"/><circle cx="810.3" cy="128.0" r="1.29"/><circle cx="793.7" cy="93.5" r="0.99"/><circle cx="772.9" cy="131.7" r="0.85"/><circle cx="759.0" cy="129.2" r="0.95"/><circle cx="747.8" cy="68.8" r="1.13"/><circle cx="748.9" cy="69.8" r="0.79"/><circle cx="826.0" cy="88.3" r="0.85"/><circle cx="750.5" cy="107.9" r="1.23"/><circle cx="749.8" cy="107.7" r="0.86"/><circle cx="794.8" cy="122.6" r="1.25"/><circle cx="798.6" cy="76.2" r="1.30"/><circle cx="798.7" cy="75.9" r="0.91"/><circle cx="804.8" cy="82.7" r="0.95"/><circle cx="763.1" cy="78.9" r="1.33"/><circle cx="762.7" cy="78.6" r="0.93"/><circle cx="826.4" cy="108.6" r="0.94"/><circle cx="810.8" cy="120.9" r="1.39"/><circle cx="810.7" cy="121.6" r="0.98"/><circle cx="813.5" cy="142.8" r="0.82"/><circle cx="767.2" cy="76.0" r="0.91"/><circle cx="824.7" cy="115.0" r="1.36"/><circle cx="825.6" cy="114.9" r="0.95"/><circle cx="764.3" cy="131.3" r="1.37"/><circle cx="764.5" cy="131.6" r="0.96"/><circle cx="760.7" cy="97.0" r="0.88"/><circle cx="759.6" cy="87.4" r="1.16"/><circle cx="759.5" cy="67.0" r="1.00"/><circle cx="799.8" cy="81.6" r="0.99"/><circle cx="759.5" cy="132.8" r="1.13"/><circle cx="758.6" cy="132.6" r="0.79"/><circle cx="788.9" cy="119.7" r="0.85"/><circle cx="756.2" cy="124.4" r="1.05"/><circle cx="755.7" cy="125.5" r="0.73"/><circle cx="768.8" cy="113.6" r="1.01"/><circle cx="769.6" cy="114.8" r="0.71"/><circle cx="773.1" cy="82.6" r="1.24"/><circle cx="771.9" cy="83.5" r="0.87"/><circle cx="778.2" cy="134.9" r="1.04"/><circle cx="781.3" cy="79.7" r="0.81"/><circle cx="789.0" cy="119.8" r="1.35"/><circle cx="789.3" cy="119.5" r="0.94"/><circle cx="785.0" cy="78.3" r="0.97"/><circle cx="786.4" cy="143.7" r="0.87"/><circle cx="783.8" cy="133.6" r="1.38"/><circle cx="783.0" cy="134.7" r="0.97"/><circle cx="824.9" cy="106.5" r="0.83"/><circle cx="820.7" cy="98.6" r="1.34"/><circle cx="812.1" cy="79.5" r="1.27"/><circle cx="811.9" cy="80.3" r="0.89"/><circle cx="812.5" cy="81.4" r="0.93"/><circle cx="776.2" cy="109.5" r="1.03"/><circle cx="775.6" cy="110.0" r="0.72"/><circle cx="818.3" cy="69.5" r="1.14"/><circle cx="745.5" cy="136.4" r="0.87"/><circle cx="793.1" cy="112.2" r="1.18"/><circle cx="792.9" cy="112.4" r="0.82"/><circle cx="778.4" cy="121.3" r="1.07"/><circle cx="777.2" cy="121.6" r="0.75"/><circle cx="783.8" cy="85.8" r="1.26"/><circle cx="781.1" cy="81.1" r="1.08"/><circle cx="780.2" cy="80.9" r="0.76"/><circle cx="750.1" cy="103.1" r="1.11"/><circle cx="750.4" cy="102.1" r="0.77"/><circle cx="804.4" cy="131.3" r="1.11"/><circle cx="804.4" cy="131.0" r="0.77"/><circle cx="822.8" cy="77.4" r="1.31"/><circle cx="804.3" cy="134.5" r="0.92"/><circle cx="825.5" cy="107.3" r="1.37"/><circle cx="756.3" cy="132.2" r="1.36"/><circle cx="755.9" cy="132.8" r="0.95"/><circle cx="755.7" cy="141.3" r="0.96"/><circle cx="811.4" cy="78.1" r="1.10"/><circle cx="759.9" cy="88.1" r="1.10"/><circle cx="758.8" cy="87.3" r="0.77"/><circle cx="756.0" cy="144.7" r="1.21"/><circle cx="756.6" cy="131.9" r="0.87"/><circle cx="787.3" cy="119.5" r="1.02"/><circle cx="789.3" cy="114.7" r="1.33"/><circle cx="790.5" cy="115.0" r="0.93"/><circle cx="775.7" cy="133.0" r="0.96"/><circle cx="826.2" cy="114.5" r="1.02"/><circle cx="779.8" cy="80.8" r="1.25"/><circle cx="780.5" cy="80.3" r="0.87"/><circle cx="796.4" cy="148.7" r="1.15"/><circle cx="768.8" cy="66.2" r="0.82"/><circle cx="755.0" cy="117.7" r="1.06"/><circle cx="755.9" cy="116.9" r="0.74"/><circle cx="761.5" cy="120.9" r="0.81"/><circle cx="742.5" cy="95.8" r="0.86"/><circle cx="772.6" cy="84.8" r="1.15"/><circle cx="771.8" cy="85.1" r="0.81"/><circle cx="782.5" cy="77.3" r="1.36"/><circle cx="781.7" cy="76.3" r="0.95"/><circle cx="796.4" cy="139.2" r="1.27"/><circle cx="795.8" cy="138.0" r="0.89"/><circle cx="796.9" cy="113.2" r="1.01"/><circle cx="779.9" cy="144.7" r="1.24"/><circle cx="780.9" cy="143.6" r="0.87"/><circle cx="787.3" cy="100.1" r="0.94"/><circle cx="747.2" cy="131.4" r="0.81"/><circle cx="789.0" cy="145.0" r="0.89"/><circle cx="759.2" cy="117.1" r="1.10"/><circle cx="811.2" cy="80.7" r="0.99"/><circle cx="767.7" cy="70.1" r="1.33"/><circle cx="802.9" cy="66.5" r="1.31"/><circle cx="781.7" cy="128.3" r="1.07"/><circle cx="780.8" cy="127.7" r="0.75"/><circle cx="745.6" cy="94.2" r="1.25"/><circle cx="813.9" cy="125.8" r="0.96"/><circle cx="789.2" cy="102.6" r="1.27"/><circle cx="788.6" cy="103.0" r="0.89"/><circle cx="824.0" cy="84.2" r="1.33"/><circle cx="823.5" cy="83.6" r="0.93"/><circle cx="805.3" cy="145.4" r="1.25"/><circle cx="806.2" cy="144.9" r="0.87"/><circle cx="762.6" cy="142.2" r="1.18"/><circle cx="798.6" cy="148.2" r="1.08"/><circle cx="801.4" cy="138.0" r="1.06"/><circle cx="790.6" cy="91.9" r="0.93"/><circle cx="795.0" cy="72.5" r="1.35"/><circle cx="793.9" cy="71.6" r="0.94"/><circle cx="821.0" cy="95.0" r="0.89"/><circle cx="744.7" cy="69.5" r="1.22"/><circle cx="801.3" cy="127.9" r="0.84"/><circle cx="792.3" cy="96.5" r="1.29"/><circle cx="817.8" cy="71.5" r="1.32"/><circle cx="822.3" cy="75.0" r="0.92"/><circle cx="751.8" cy="68.9" r="1.31"/><circle cx="796.0" cy="135.3" r="1.18"/><circle cx="795.1" cy="134.3" r="0.83"/><circle cx="806.4" cy="83.2" r="0.99"/><circle cx="778.2" cy="67.8" r="0.95"/><circle cx="766.2" cy="126.1" r="1.02"/><circle cx="767.3" cy="126.1" r="0.71"/><circle cx="814.4" cy="117.9" r="0.82"/><circle cx="777.3" cy="102.7" r="1.26"/><circle cx="777.8" cy="102.8" r="0.88"/><circle cx="760.6" cy="138.4" r="0.85"/><circle cx="811.7" cy="80.3" r="0.80"/><circle cx="759.4" cy="130.0" r="1.39"/><circle cx="759.4" cy="130.0" r="0.97"/><circle cx="809.8" cy="81.5" r="1.10"/><circle cx="810.6" cy="80.9" r="0.77"/><circle cx="822.2" cy="89.8" r="0.93"/><circle cx="801.5" cy="107.9" r="0.87"/><circle cx="796.2" cy="72.8" r="1.27"/><circle cx="809.0" cy="118.7" r="1.01"/><circle cx="808.7" cy="119.7" r="0.71"/><circle cx="749.6" cy="140.6" r="0.82"/><circle cx="759.8" cy="88.1" r="1.34"/><circle cx="759.5" cy="89.0" r="0.94"/><circle cx="762.1" cy="104.7" r="1.12"/><circle cx="806.1" cy="120.3" r="1.01"/><circle cx="805.3" cy="121.1" r="0.71"/><circle cx="798.4" cy="128.3" r="0.90"/><circle cx="779.5" cy="131.0" r="1.15"/><circle cx="779.4" cy="131.9" r="0.80"/><circle cx="762.5" cy="82.1" r="0.98"/><circle cx="801.9" cy="136.9" r="0.89"/><circle cx="755.5" cy="86.8" r="1.00"/><circle cx="786.5" cy="79.5" r="1.00"/><circle cx="758.3" cy="147.9" r="1.24"/><circle cx="759.4" cy="147.0" r="0.87"/><circle cx="774.8" cy="148.6" r="1.28"/><circle cx="779.1" cy="82.5" r="1.18"/><circle cx="778.4" cy="82.2" r="0.83"/><circle cx="745.2" cy="99.5" r="1.27"/><circle cx="784.7" cy="119.1" r="1.08"/><circle cx="784.9" cy="118.9" r="0.75"/><circle cx="805.1" cy="142.3" r="1.06"/><circle cx="805.7" cy="142.1" r="0.74"/><circle cx="761.7" cy="126.7" r="1.33"/><circle cx="801.6" cy="137.6" r="1.21"/><circle cx="780.7" cy="92.3" r="1.18"/><circle cx="780.6" cy="93.0" r="0.82"/><circle cx="802.7" cy="118.9" r="0.95"/><circle cx="778.2" cy="104.2" r="1.17"/><circle cx="778.6" cy="105.3" r="0.82"/><circle cx="757.8" cy="121.0" r="1.27"/><circle cx="757.8" cy="122.1" r="0.89"/><circle cx="745.5" cy="111.6" r="0.90"/><circle cx="808.5" cy="145.0" r="1.11"/><circle cx="808.7" cy="145.1" r="0.78"/><circle cx="803.1" cy="109.0" r="1.18"/><circle cx="786.5" cy="100.5" r="1.37"/><circle cx="786.9" cy="100.2" r="0.96"/><circle cx="806.9" cy="76.3" r="1.39"/><circle cx="805.8" cy="75.7" r="0.97"/><circle cx="776.2" cy="67.1" r="1.05"/><circle cx="776.6" cy="66.8" r="0.74"/><circle cx="764.8" cy="84.9" r="1.24"/><circle cx="786.9" cy="84.4" r="1.28"/><circle cx="786.3" cy="83.5" r="0.90"/><circle cx="808.1" cy="134.0" r="1.18"/><circle cx="808.2" cy="133.3" r="0.83"/><circle cx="823.9" cy="95.7" r="1.18"/><circle cx="811.4" cy="105.3" r="0.98"/><circle cx="788.7" cy="76.5" r="1.30"/><circle cx="789.6" cy="76.0" r="0.91"/><circle cx="774.2" cy="87.3" r="1.06"/><circle cx="773.0" cy="87.8" r="0.74"/><circle cx="766.1" cy="86.6" r="0.98"/><circle cx="782.9" cy="102.0" r="1.18"/><circle cx="773.0" cy="144.0" r="1.31"/><circle cx="773.8" cy="145.0" r="0.92"/><circle cx="808.7" cy="77.8" r="1.30"/><circle cx="743.6" cy="67.0" r="1.37"/><circle cx="763.5" cy="74.5" r="0.89"/><circle cx="762.1" cy="131.2" r="1.01"/><circle cx="763.1" cy="131.9" r="0.71"/><circle cx="756.5" cy="140.9" r="1.17"/><circle cx="798.9" cy="141.1" r="1.27"/><circle cx="759.0" cy="124.2" r="1.12"/><circle cx="779.4" cy="140.1" r="1.13"/><circle cx="778.8" cy="139.3" r="0.79"/><circle cx="784.1" cy="70.9" r="1.08"/><circle cx="784.0" cy="70.9" r="0.76"/><circle cx="788.0" cy="138.5" r="0.80"/><circle cx="813.5" cy="105.3" r="1.14"/><circle cx="813.5" cy="97.5" r="1.05"/><circle cx="748.7" cy="119.5" r="1.18"/><circle cx="748.9" cy="119.9" r="0.83"/><circle cx="821.2" cy="93.8" r="1.39"/><circle cx="821.2" cy="94.7" r="0.97"/><circle cx="745.2" cy="126.3" r="1.18"/><circle cx="746.0" cy="126.0" r="0.82"/><circle cx="782.5" cy="110.1" r="1.26"/><circle cx="782.3" cy="110.0" r="0.88"/><circle cx="789.2" cy="135.4" r="0.98"/><circle cx="812.4" cy="99.9" r="1.10"/><circle cx="812.4" cy="101.1" r="0.77"/><circle cx="797.7" cy="132.5" r="1.00"/><circle cx="769.2" cy="91.1" r="1.15"/><circle cx="808.7" cy="69.4" r="1.23"/><circle cx="788.5" cy="70.2" r="0.98"/><circle cx="742.8" cy="82.0" r="1.35"/><circle cx="798.0" cy="132.3" r="1.35"/><circle cx="794.5" cy="118.7" r="1.22"/><circle cx="795.0" cy="118.0" r="0.85"/><circle cx="798.8" cy="104.5" r="1.26"/><circle cx="798.0" cy="103.4" r="0.88"/><circle cx="807.9" cy="142.8" r="1.19"/><circle cx="808.7" cy="143.5" r="0.84"/><circle cx="789.9" cy="87.7" r="0.98"/><circle cx="778.0" cy="92.8" r="1.06"/><circle cx="821.4" cy="70.6" r="1.14"/><circle cx="820.5" cy="71.3" r="0.80"/><circle cx="791.0" cy="143.2" r="1.07"/><circle cx="790.8" cy="143.4" r="0.75"/><circle cx="821.7" cy="148.4" r="1.09"/><circle cx="820.8" cy="148.7" r="0.76"/><circle cx="760.3" cy="78.7" r="0.81"/><circle cx="742.7" cy="123.4" r="0.87"/><circle cx="824.1" cy="73.4" r="1.32"/><circle cx="823.0" cy="73.9" r="0.93"/><circle cx="762.8" cy="127.6" r="0.91"/><circle cx="746.5" cy="131.0" r="1.23"/><circle cx="804.1" cy="73.1" r="1.18"/><circle cx="781.3" cy="144.3" r="0.95"/><circle cx="824.0" cy="126.2" r="0.81"/><circle cx="743.5" cy="120.7" r="1.29"/><circle cx="743.1" cy="121.2" r="0.90"/><circle cx="756.4" cy="138.3" r="1.09"/><circle cx="756.0" cy="138.5" r="0.76"/><circle cx="779.5" cy="122.9" r="0.89"/><circle cx="809.8" cy="96.5" r="1.19"/><circle cx="777.7" cy="98.4" r="1.27"/><circle cx="808.8" cy="113.6" r="0.98"/><circle cx="747.4" cy="147.8" r="1.22"/><circle cx="770.4" cy="116.9" r="1.39"/><circle cx="793.2" cy="91.9" r="1.06"/><circle cx="774.2" cy="123.5" r="1.16"/><circle cx="810.7" cy="89.8" r="0.80"/><circle cx="764.6" cy="101.5" r="1.15"/><circle cx="817.5" cy="69.6" r="1.30"/><circle cx="815.8" cy="114.0" r="0.96"/><circle cx="814.4" cy="133.8" r="1.21"/><circle cx="771.7" cy="73.1" r="1.13"/><circle cx="759.3" cy="129.0" r="1.36"/><circle cx="759.5" cy="129.4" r="0.95"/><circle cx="781.7" cy="83.4" r="0.95"/><circle cx="805.9" cy="132.5" r="1.08"/><circle cx="806.7" cy="133.2" r="0.75"/><circle cx="762.0" cy="114.7" r="1.34"/><circle cx="786.5" cy="106.0" r="1.15"/><circle cx="785.8" cy="105.3" r="0.81"/><circle cx="801.7" cy="96.5" r="1.14"/><circle cx="801.7" cy="95.6" r="0.80"/><circle cx="746.1" cy="149.8" r="1.02"/><circle cx="746.4" cy="150.4" r="0.72"/><circle cx="755.5" cy="116.2" r="1.01"/><circle cx="754.4" cy="115.0" r="0.70"/><circle cx="826.2" cy="138.8" r="1.09"/><circle cx="825.6" cy="139.4" r="0.76"/><circle cx="778.4" cy="145.5" r="1.26"/><circle cx="823.9" cy="87.3" r="0.82"/><circle cx="759.3" cy="81.2" r="0.85"/><circle cx="746.6" cy="112.8" r="1.32"/><circle cx="747.7" cy="113.8" r="0.93"/><circle cx="747.7" cy="116.2" r="1.04"/><circle cx="748.8" cy="115.7" r="0.73"/><circle cx="790.1" cy="119.8" r="1.37"/></g></g><text x="744.3" y="147" font-size="9" font-weight="bold" fill="#222">c</text></g><g clip-path="url(#c10)"><g filter="url(#t10)"><rect x="564" y="154.8" width="83.5" height="84.19999999999999" fill="#828282"/><g filter="url(#b12)"><ellipse cx="593.2" cy="196.9" rx="33.4" ry="33.7" fill="#686868" opacity="1"/><ellipse cx="643.3" cy="180.1" rx="12.5" ry="42.1" fill="#9a9a9a" opacity="0.9"/><ellipse cx="622.5" cy="234.8" rx="25.1" ry="12.6" fill="#8e8e8e" opacity="0.7"/><ellipse cx="572.4" cy="159.0" rx="25.1" ry="8.4" fill="#8e8e8e" opacity="0.6"/></g><g fill="#505050" opacity="0.45" filter="url(#b05)"><circle cx="596.8" cy="192.6" r="0.66"/><circle cx="644.6" cy="238.3" r="0.69"/><circle cx="567.2" cy="176.3" r="0.74"/><circle cx="639.4" cy="231.0" r="0.93"/><circle cx="567.9" cy="221.0" r="0.88"/><circle cx="618.0" cy="237.8" r="0.62"/><circle cx="576.1" cy="218.4" r="0.98"/><circle cx="620.5" cy="180.0" r="0.84"/><circle cx="627.3" cy="163.7" r="0.73"/><circle cx="585.5" cy="165.3" r="0.79"/><circle cx="578.1" cy="174.9" r="0.66"/><circle cx="620.6" cy="155.9" r="0.89"/><circle cx="580.3" cy="157.8" r="0.97"/><circle cx="582.4" cy="233.4" r="0.95"/><circle cx="638.2" cy="166.6" r="0.78"/><circle cx="572.1" cy="233.0" r="0.94"/><circle cx="616.5" cy="192.9" r="0.74"/><circle cx="632.7" cy="195.0" r="0.85"/><circle cx="575.9" cy="173.5" r="0.62"/><circle cx="623.6" cy="201.4" r="0.66"/><circle cx="636.7" cy="177.2" r="0.76"/><circle cx="577.0" cy="177.6" r="0.94"/><circle cx="591.9" cy="168.9" r="0.80"/><circle cx="590.6" cy="230.8" r="0.65"/><circle cx="645.7" cy="159.6" r="0.96"/><circle cx="619.8" cy="172.6" r="0.79"/><circle cx="587.9" cy="176.5" r="0.68"/><circle cx="594.4" cy="238.2" r="1.00"/><circle cx="641.2" cy="163.0" r="0.72"/><circle cx="638.8" cy="159.6" r="0.89"/></g></g><text x="566" y="236" font-size="9" font-weight="bold" fill="#222">d</text></g><g clip-path="url(#c11)"><g filter="url(#t11)"><rect x="652.5" y="154.8" width="85.0" height="84.19999999999999" fill="#b8b8b8"/><g filter="url(#b12)"><ellipse cx="669.5" cy="222.2" rx="29.7" ry="25.3" fill="#dcdcdc" opacity="1"/><ellipse cx="703.5" cy="167.4" rx="34.0" ry="21.0" fill="#acacac" opacity="0.7"/><ellipse cx="724.8" cy="209.5" rx="17.0" ry="33.7" fill="#a6a6a6" opacity="0.8"/></g><g fill="#333" opacity="0.7" filter="url(#b05)"><circle cx="664.4" cy="155.0" r="1.27"/><circle cx="663.7" cy="154.8" r="0.89"/><circle cx="701.1" cy="166.4" r="0.74"/><circle cx="669.2" cy="161.5" r="0.67"/><circle cx="675.8" cy="172.1" r="1.09"/><circle cx="669.7" cy="160.3" r="1.19"/><circle cx="670.2" cy="159.3" r="0.83"/><circle cx="724.1" cy="227.6" r="0.99"/><circle cx="693.0" cy="228.2" r="0.81"/><circle cx="683.7" cy="168.6" r="0.90"/><circle cx="696.7" cy="192.3" r="1.01"/><circle cx="697.2" cy="193.1" r="0.71"/><circle cx="713.0" cy="186.9" r="1.20"/><circle cx="713.8" cy="188.0" r="0.84"/><circle cx="697.6" cy="200.0" r="0.62"/><circle cx="668.0" cy="163.4" r="0.80"/><circle cx="654.0" cy="205.3" r="1.06"/><circle cx="654.5" cy="204.3" r="0.74"/><circle cx="656.3" cy="165.2" r="0.99"/><circle cx="662.9" cy="189.0" r="0.71"/><circle cx="665.0" cy="203.0" r="1.20"/><circle cx="665.8" cy="204.1" r="0.84"/><circle cx="723.9" cy="199.1" r="0.92"/><circle cx="681.3" cy="175.0" r="0.87"/><circle cx="720.9" cy="231.7" r="1.25"/><circle cx="733.9" cy="233.5" r="0.80"/><circle cx="683.5" cy="199.5" r="0.66"/><circle cx="654.3" cy="166.5" r="1.38"/><circle cx="721.3" cy="229.3" r="1.31"/><circle cx="721.6" cy="228.7" r="0.92"/><circle cx="698.6" cy="232.6" r="1.10"/><circle cx="698.6" cy="232.5" r="0.77"/><circle cx="703.0" cy="235.3" r="1.01"/><circle cx="702.9" cy="235.4" r="0.71"/><circle cx="663.7" cy="179.5" r="0.93"/><circle cx="660.0" cy="200.8" r="1.27"/><circle cx="699.1" cy="206.4" r="0.98"/><circle cx="671.3" cy="197.9" r="0.91"/><circle cx="699.8" cy="196.2" r="0.83"/><circle cx="718.1" cy="168.2" r="0.65"/><circle cx="657.8" cy="187.5" r="0.95"/><circle cx="665.6" cy="183.2" r="0.88"/><circle cx="724.7" cy="223.9" r="1.01"/><circle cx="692.9" cy="220.9" r="1.17"/><circle cx="694.8" cy="235.9" r="1.06"/><circle cx="695.5" cy="236.8" r="0.74"/><circle cx="690.9" cy="193.4" r="1.18"/><circle cx="690.7" cy="193.5" r="0.82"/><circle cx="719.4" cy="226.3" r="1.00"/><circle cx="678.3" cy="167.0" r="1.06"/><circle cx="677.4" cy="168.0" r="0.74"/><circle cx="723.7" cy="235.5" r="0.76"/><circle cx="653.4" cy="158.8" r="1.05"/><circle cx="654.4" cy="159.5" r="0.74"/><circle cx="696.5" cy="198.4" r="1.15"/><circle cx="696.1" cy="198.6" r="0.80"/><circle cx="710.0" cy="199.0" r="0.68"/><circle cx="700.2" cy="203.1" r="1.30"/><circle cx="705.6" cy="238.7" r="0.87"/><circle cx="667.0" cy="181.6" r="1.38"/><circle cx="728.5" cy="212.9" r="1.26"/><circle cx="665.8" cy="179.2" r="1.01"/><circle cx="665.0" cy="178.4" r="0.71"/><circle cx="656.1" cy="189.4" r="1.23"/><circle cx="656.6" cy="188.3" r="0.86"/><circle cx="702.3" cy="211.1" r="0.76"/><circle cx="737.3" cy="203.2" r="0.93"/><circle cx="717.1" cy="163.8" r="0.68"/><circle cx="722.5" cy="206.4" r="1.25"/><circle cx="721.3" cy="207.1" r="0.87"/><circle cx="682.6" cy="169.1" r="0.81"/><circle cx="702.0" cy="184.2" r="0.96"/><circle cx="728.2" cy="203.9" r="1.37"/><circle cx="728.5" cy="203.3" r="0.96"/><circle cx="725.2" cy="181.3" r="1.32"/><circle cx="734.1" cy="196.5" r="1.36"/><circle cx="733.8" cy="197.0" r="0.95"/><circle cx="726.9" cy="195.6" r="1.23"/><circle cx="726.1" cy="195.2" r="0.86"/><circle cx="677.2" cy="202.1" r="0.69"/><circle cx="686.8" cy="160.3" r="0.70"/><circle cx="673.3" cy="170.9" r="0.83"/><circle cx="709.0" cy="183.5" r="0.72"/><circle cx="690.2" cy="225.2" r="0.73"/><circle cx="733.3" cy="197.3" r="0.78"/><circle cx="712.6" cy="176.8" r="1.32"/><circle cx="712.2" cy="176.1" r="0.92"/><circle cx="726.7" cy="165.1" r="1.01"/><circle cx="726.1" cy="165.8" r="0.71"/><circle cx="700.8" cy="181.0" r="0.91"/><circle cx="724.8" cy="181.8" r="1.13"/><circle cx="725.0" cy="181.5" r="0.79"/><circle cx="658.1" cy="181.0" r="0.78"/><circle cx="676.5" cy="188.8" r="1.33"/><circle cx="663.7" cy="178.1" r="0.62"/><circle cx="682.4" cy="189.5" r="1.13"/><circle cx="713.1" cy="158.2" r="0.63"/><circle cx="678.3" cy="186.9" r="0.63"/><circle cx="713.4" cy="176.2" r="0.95"/><circle cx="652.6" cy="225.0" r="0.83"/><circle cx="704.1" cy="158.8" r="0.80"/><circle cx="716.0" cy="224.6" r="0.82"/><circle cx="715.3" cy="224.7" r="1.10"/><circle cx="714.2" cy="225.2" r="0.77"/><circle cx="731.4" cy="165.5" r="1.21"/><circle cx="731.9" cy="166.3" r="0.85"/><circle cx="734.9" cy="208.5" r="1.04"/><circle cx="733.8" cy="208.1" r="0.72"/><circle cx="678.9" cy="166.3" r="1.17"/><circle cx="696.3" cy="192.3" r="1.35"/><circle cx="695.8" cy="193.2" r="0.94"/><circle cx="717.1" cy="169.0" r="1.13"/><circle cx="717.1" cy="169.7" r="0.79"/><circle cx="677.1" cy="185.2" r="0.77"/><circle cx="662.1" cy="182.1" r="0.97"/><circle cx="658.6" cy="155.7" r="1.39"/><circle cx="735.8" cy="202.3" r="0.69"/><circle cx="668.6" cy="200.5" r="0.61"/><circle cx="705.9" cy="233.5" r="1.12"/><circle cx="705.2" cy="232.7" r="0.79"/><circle cx="723.9" cy="179.7" r="0.75"/><circle cx="731.3" cy="169.0" r="1.23"/><circle cx="683.8" cy="201.2" r="0.90"/><circle cx="656.0" cy="202.5" r="1.10"/><circle cx="732.8" cy="196.4" r="1.00"/><circle cx="701.9" cy="161.6" r="1.15"/><circle cx="701.8" cy="162.7" r="0.81"/><circle cx="689.9" cy="170.9" r="1.18"/><circle cx="690.7" cy="171.7" r="0.82"/><circle cx="688.3" cy="183.3" r="0.95"/><circle cx="729.3" cy="168.6" r="0.84"/><circle cx="682.1" cy="171.3" r="0.67"/><circle cx="735.1" cy="231.3" r="1.29"/><circle cx="721.4" cy="159.9" r="1.14"/><circle cx="733.5" cy="195.3" r="1.12"/><circle cx="733.1" cy="196.2" r="0.78"/><circle cx="710.2" cy="192.5" r="0.67"/><circle cx="701.9" cy="189.9" r="1.02"/><circle cx="701.6" cy="188.9" r="0.72"/><circle cx="699.1" cy="164.3" r="1.29"/><circle cx="698.1" cy="164.3" r="0.90"/><circle cx="699.6" cy="173.9" r="1.06"/><circle cx="699.6" cy="174.1" r="0.74"/><circle cx="658.7" cy="191.8" r="1.29"/><circle cx="659.3" cy="192.4" r="0.90"/><circle cx="713.8" cy="163.4" r="1.26"/><circle cx="713.0" cy="164.5" r="0.88"/><circle cx="672.6" cy="186.2" r="0.61"/><circle cx="728.0" cy="207.1" r="1.30"/><circle cx="729.0" cy="208.0" r="0.91"/><circle cx="722.7" cy="165.1" r="0.90"/><circle cx="713.9" cy="158.5" r="1.08"/><circle cx="714.0" cy="159.2" r="0.76"/><circle cx="709.9" cy="176.2" r="0.75"/><circle cx="701.9" cy="164.4" r="0.62"/><circle cx="668.2" cy="201.5" r="0.83"/><circle cx="711.1" cy="222.8" r="1.36"/><circle cx="710.7" cy="222.0" r="0.95"/><circle cx="720.5" cy="157.8" r="0.75"/><circle cx="685.9" cy="194.9" r="0.73"/><circle cx="726.7" cy="206.2" r="0.66"/><circle cx="728.5" cy="204.4" r="0.63"/><circle cx="692.3" cy="203.4" r="0.91"/><circle cx="701.7" cy="182.9" r="0.62"/><circle cx="656.4" cy="167.1" r="1.14"/><circle cx="655.8" cy="167.1" r="0.80"/><circle cx="697.4" cy="235.4" r="1.39"/><circle cx="697.5" cy="236.0" r="0.98"/><circle cx="706.3" cy="208.2" r="0.89"/><circle cx="726.7" cy="233.8" r="1.15"/><circle cx="727.3" cy="234.4" r="0.80"/><circle cx="682.3" cy="201.2" r="0.92"/><circle cx="683.7" cy="175.3" r="0.79"/><circle cx="690.4" cy="202.7" r="0.84"/><circle cx="678.1" cy="180.8" r="1.18"/><circle cx="679.2" cy="180.4" r="0.83"/><circle cx="659.3" cy="169.9" r="1.06"/><circle cx="693.7" cy="230.5" r="0.82"/><circle cx="666.5" cy="177.4" r="1.16"/><circle cx="666.2" cy="176.7" r="0.81"/><circle cx="707.6" cy="171.4" r="1.19"/><circle cx="721.3" cy="228.5" r="0.87"/><circle cx="698.1" cy="228.5" r="1.11"/><circle cx="716.2" cy="209.4" r="0.92"/><circle cx="657.4" cy="189.7" r="0.64"/><circle cx="694.5" cy="205.1" r="0.81"/><circle cx="731.1" cy="202.3" r="1.39"/><circle cx="731.4" cy="202.8" r="0.97"/><circle cx="665.8" cy="166.8" r="1.21"/><circle cx="666.5" cy="166.6" r="0.85"/><circle cx="699.7" cy="210.1" r="1.08"/><circle cx="700.3" cy="209.6" r="0.76"/><circle cx="718.5" cy="180.8" r="1.22"/><circle cx="697.0" cy="234.0" r="0.71"/><circle cx="708.2" cy="220.0" r="0.89"/><circle cx="716.8" cy="162.4" r="0.62"/><circle cx="695.2" cy="201.6" r="0.75"/><circle cx="665.2" cy="169.7" r="1.19"/><circle cx="718.6" cy="175.2" r="1.39"/><circle cx="719.0" cy="174.9" r="0.97"/><circle cx="714.8" cy="160.3" r="1.12"/><circle cx="715.7" cy="159.3" r="0.78"/><circle cx="730.6" cy="234.4" r="1.10"/><circle cx="730.0" cy="233.8" r="0.77"/><circle cx="700.9" cy="168.0" r="1.29"/><circle cx="722.4" cy="178.6" r="0.87"/><circle cx="691.0" cy="203.6" r="1.31"/><circle cx="691.9" cy="203.2" r="0.91"/><circle cx="668.0" cy="227.5" r="0.84"/><circle cx="735.3" cy="155.6" r="1.33"/><circle cx="735.9" cy="154.6" r="0.93"/><circle cx="660.2" cy="183.4" r="1.33"/><circle cx="655.3" cy="174.6" r="1.23"/><circle cx="672.2" cy="191.0" r="0.68"/><circle cx="693.9" cy="166.2" r="0.94"/><circle cx="662.1" cy="184.6" r="1.00"/><circle cx="670.8" cy="236.3" r="1.19"/><circle cx="670.0" cy="235.7" r="0.83"/><circle cx="695.7" cy="189.2" r="1.05"/><circle cx="694.6" cy="189.6" r="0.73"/><circle cx="699.1" cy="212.9" r="1.39"/><circle cx="679.6" cy="190.1" r="1.38"/><circle cx="679.3" cy="189.9" r="0.96"/><circle cx="652.9" cy="206.0" r="0.80"/><circle cx="673.0" cy="171.5" r="0.69"/><circle cx="729.7" cy="159.0" r="1.16"/><circle cx="730.1" cy="159.1" r="0.81"/><circle cx="652.6" cy="217.6" r="1.01"/><circle cx="653.8" cy="217.0" r="0.71"/><circle cx="697.2" cy="206.4" r="1.14"/><circle cx="697.5" cy="206.5" r="0.80"/><circle cx="713.8" cy="198.8" r="0.98"/><circle cx="731.3" cy="199.3" r="1.02"/><circle cx="732.1" cy="198.7" r="0.71"/><circle cx="691.6" cy="208.7" r="1.26"/><circle cx="684.9" cy="224.9" r="0.70"/><circle cx="661.2" cy="184.8" r="1.24"/><circle cx="661.1" cy="183.8" r="0.87"/><circle cx="711.6" cy="192.6" r="0.98"/><circle cx="696.8" cy="174.8" r="0.90"/><circle cx="654.0" cy="171.7" r="1.06"/><circle cx="653.2" cy="172.2" r="0.74"/><circle cx="706.6" cy="227.1" r="0.76"/><circle cx="705.0" cy="186.1" r="0.64"/><circle cx="713.1" cy="179.7" r="0.93"/><circle cx="682.4" cy="187.2" r="1.06"/><circle cx="713.0" cy="186.2" r="1.13"/><circle cx="712.0" cy="186.8" r="0.79"/><circle cx="694.7" cy="230.7" r="1.21"/><circle cx="694.9" cy="230.6" r="0.84"/><circle cx="687.8" cy="194.7" r="1.31"/><circle cx="687.7" cy="194.7" r="0.92"/><circle cx="715.4" cy="188.6" r="0.63"/><circle cx="717.9" cy="219.6" r="0.69"/><circle cx="722.0" cy="163.4" r="0.67"/><circle cx="693.5" cy="159.4" r="1.15"/><circle cx="693.7" cy="160.6" r="0.81"/><circle cx="664.9" cy="183.0" r="1.01"/><circle cx="666.0" cy="182.4" r="0.71"/><circle cx="695.9" cy="190.2" r="0.64"/><circle cx="720.7" cy="226.9" r="0.81"/><circle cx="698.1" cy="186.3" r="0.97"/><circle cx="730.6" cy="201.6" r="0.64"/><circle cx="687.3" cy="202.4" r="0.86"/><circle cx="677.3" cy="214.6" r="1.07"/><circle cx="678.3" cy="214.5" r="0.75"/><circle cx="725.8" cy="160.9" r="1.08"/><circle cx="726.8" cy="161.0" r="0.75"/><circle cx="709.8" cy="211.6" r="0.84"/><circle cx="661.1" cy="162.8" r="1.23"/><circle cx="665.7" cy="159.6" r="1.16"/><circle cx="666.5" cy="159.1" r="0.81"/><circle cx="679.6" cy="202.0" r="0.72"/><circle cx="724.0" cy="167.6" r="1.24"/><circle cx="698.9" cy="162.7" r="0.97"/><circle cx="710.2" cy="164.4" r="1.26"/><circle cx="711.2" cy="165.6" r="0.88"/><circle cx="677.2" cy="184.1" r="1.20"/><circle cx="678.2" cy="183.1" r="0.84"/><circle cx="703.3" cy="200.3" r="0.67"/><circle cx="728.4" cy="226.0" r="0.78"/><circle cx="703.4" cy="236.3" r="0.88"/><circle cx="656.8" cy="182.8" r="0.96"/><circle cx="658.4" cy="201.9" r="0.68"/><circle cx="703.1" cy="193.6" r="0.63"/><circle cx="707.5" cy="165.9" r="1.06"/><circle cx="707.2" cy="166.3" r="0.74"/><circle cx="732.5" cy="182.7" r="1.27"/><circle cx="694.7" cy="199.9" r="0.69"/><circle cx="698.0" cy="197.5" r="0.89"/><circle cx="669.8" cy="165.5" r="0.79"/><circle cx="728.2" cy="156.1" r="1.35"/><circle cx="728.9" cy="156.2" r="0.95"/><circle cx="716.3" cy="167.7" r="0.81"/><circle cx="696.5" cy="179.4" r="1.31"/><circle cx="696.7" cy="178.7" r="0.92"/><circle cx="712.9" cy="160.0" r="0.80"/><circle cx="721.7" cy="183.6" r="1.25"/><circle cx="722.8" cy="182.4" r="0.87"/><circle cx="687.1" cy="162.2" r="0.80"/><circle cx="665.4" cy="183.8" r="0.71"/><circle cx="680.6" cy="237.0" r="1.23"/><circle cx="680.6" cy="237.6" r="0.86"/><circle cx="706.6" cy="171.6" r="1.10"/><circle cx="713.5" cy="184.2" r="0.73"/><circle cx="715.9" cy="166.2" r="1.26"/><circle cx="723.3" cy="222.3" r="1.07"/><circle cx="724.0" cy="223.0" r="0.75"/><circle cx="734.2" cy="199.6" r="1.36"/><circle cx="735.3" cy="200.3" r="0.95"/><circle cx="672.2" cy="171.5" r="0.97"/><circle cx="729.7" cy="212.5" r="1.17"/><circle cx="730.4" cy="213.2" r="0.82"/><circle cx="722.7" cy="189.0" r="0.67"/><circle cx="681.4" cy="204.9" r="1.27"/><circle cx="653.9" cy="164.1" r="1.25"/><circle cx="654.1" cy="164.0" r="0.87"/><circle cx="677.3" cy="162.2" r="0.82"/><circle cx="708.7" cy="222.8" r="0.70"/><circle cx="722.4" cy="170.3" r="0.82"/><circle cx="728.5" cy="188.0" r="1.00"/><circle cx="736.5" cy="170.8" r="1.26"/><circle cx="736.6" cy="169.6" r="0.89"/><circle cx="691.1" cy="223.0" r="0.80"/><circle cx="699.5" cy="227.4" r="1.01"/><circle cx="700.5" cy="228.3" r="0.71"/><circle cx="705.5" cy="192.2" r="1.37"/><circle cx="705.9" cy="192.5" r="0.96"/><circle cx="710.0" cy="231.2" r="1.00"/><circle cx="699.9" cy="192.5" r="1.20"/><circle cx="655.5" cy="182.2" r="0.71"/><circle cx="664.8" cy="204.3" r="1.06"/><circle cx="664.5" cy="204.9" r="0.74"/><circle cx="717.3" cy="179.3" r="1.04"/><circle cx="718.5" cy="179.7" r="0.72"/><circle cx="711.2" cy="178.2" r="0.73"/><circle cx="720.0" cy="184.0" r="0.71"/><circle cx="679.0" cy="159.3" r="0.84"/><circle cx="734.3" cy="170.6" r="0.85"/><circle cx="679.8" cy="191.7" r="0.69"/><circle cx="723.7" cy="208.4" r="1.22"/><circle cx="722.8" cy="209.1" r="0.86"/><circle cx="709.5" cy="218.2" r="0.82"/><circle cx="697.5" cy="179.1" r="1.10"/><circle cx="698.1" cy="178.0" r="0.77"/><circle cx="673.2" cy="160.7" r="1.04"/><circle cx="721.2" cy="164.2" r="0.85"/><circle cx="706.4" cy="213.1" r="1.22"/><circle cx="707.4" cy="213.6" r="0.85"/><circle cx="721.0" cy="184.2" r="0.75"/><circle cx="696.8" cy="211.2" r="1.32"/><circle cx="696.4" cy="210.1" r="0.92"/><circle cx="724.9" cy="211.0" r="1.06"/><circle cx="725.1" cy="210.5" r="0.74"/><circle cx="723.8" cy="167.5" r="1.14"/><circle cx="728.9" cy="217.4" r="1.26"/><circle cx="712.3" cy="214.1" r="1.09"/><circle cx="711.3" cy="214.3" r="0.76"/><circle cx="670.6" cy="173.6" r="0.68"/><circle cx="720.7" cy="185.1" r="1.16"/><circle cx="721.5" cy="184.7" r="0.81"/><circle cx="664.3" cy="178.0" r="0.65"/><circle cx="721.1" cy="158.1" r="1.26"/><circle cx="720.5" cy="158.4" r="0.88"/><circle cx="700.8" cy="173.1" r="1.23"/><circle cx="701.6" cy="173.9" r="0.86"/><circle cx="718.6" cy="157.2" r="1.00"/><circle cx="717.6" cy="157.5" r="0.70"/><circle cx="686.5" cy="197.9" r="1.07"/><circle cx="687.4" cy="199.1" r="0.75"/><circle cx="693.1" cy="166.1" r="0.96"/><circle cx="691.1" cy="183.6" r="0.75"/><circle cx="689.8" cy="171.4" r="1.16"/><circle cx="689.2" cy="171.6" r="0.81"/><circle cx="716.1" cy="234.6" r="1.34"/><circle cx="670.0" cy="155.9" r="1.29"/><circle cx="682.7" cy="168.6" r="1.11"/><circle cx="667.4" cy="184.7" r="1.32"/><circle cx="661.6" cy="167.8" r="1.22"/><circle cx="662.7" cy="168.7" r="0.86"/><circle cx="722.4" cy="165.6" r="0.69"/><circle cx="670.3" cy="176.0" r="0.62"/><circle cx="732.9" cy="237.4" r="0.95"/><circle cx="721.5" cy="225.6" r="0.71"/><circle cx="702.3" cy="186.7" r="0.61"/><circle cx="691.9" cy="158.4" r="1.31"/><circle cx="690.9" cy="158.0" r="0.92"/><circle cx="693.7" cy="208.6" r="0.76"/><circle cx="685.0" cy="163.6" r="1.07"/><circle cx="684.3" cy="163.5" r="0.75"/><circle cx="712.6" cy="191.8" r="0.65"/><circle cx="692.5" cy="188.5" r="1.14"/><circle cx="711.3" cy="194.5" r="0.71"/><circle cx="657.8" cy="174.9" r="1.39"/><circle cx="657.6" cy="175.6" r="0.97"/><circle cx="715.5" cy="158.0" r="0.68"/><circle cx="655.7" cy="158.9" r="0.79"/><circle cx="709.6" cy="233.1" r="1.11"/><circle cx="735.2" cy="214.6" r="0.75"/><circle cx="696.0" cy="163.7" r="1.23"/><circle cx="724.9" cy="201.6" r="1.26"/><circle cx="725.2" cy="201.8" r="0.88"/><circle cx="657.1" cy="200.7" r="0.83"/></g></g><text x="654.5" y="236" font-size="9" font-weight="bold" fill="#222">e</text></g><g clip-path="url(#c12)"><g filter="url(#t12)"><rect x="742.3" y="154.8" width="84.70000000000005" height="84.19999999999999" fill="#bdbdbd"/><g filter="url(#b12)"><ellipse cx="755.0" cy="226.4" rx="25.4" ry="16.8" fill="#d4d4d4" opacity="0.8"/><ellipse cx="805.8" cy="192.7" rx="25.4" ry="33.7" fill="#a0a0a0" opacity="0.7"/><ellipse cx="771.9" cy="175.9" rx="25.4" ry="16.8" fill="#ababab" opacity="0.6"/><ellipse cx="784.6" cy="205.3" rx="8.5" ry="33.7" fill="#a8a8a8" opacity="0.5"/></g><g fill="#555" opacity="0.5" filter="url(#b05)"><circle cx="775.9" cy="155.4" r="0.95"/><circle cx="744.3" cy="224.7" r="0.99"/><circle cx="781.1" cy="165.1" r="0.89"/><circle cx="759.8" cy="190.9" r="0.57"/><circle cx="825.0" cy="200.8" r="0.71"/><circle cx="750.3" cy="216.3" r="1.01"/><circle cx="750.9" cy="185.8" r="0.68"/><circle cx="806.9" cy="167.2" r="0.86"/><circle cx="825.2" cy="219.5" r="0.50"/><circle cx="748.7" cy="164.4" r="0.92"/><circle cx="793.0" cy="198.6" r="0.77"/><circle cx="776.8" cy="206.2" r="0.89"/><circle cx="819.9" cy="216.5" r="0.98"/><circle cx="819.6" cy="225.3" r="0.93"/><circle cx="744.9" cy="212.1" r="1.01"/><circle cx="745.8" cy="211.4" r="0.71"/><circle cx="822.2" cy="192.0" r="0.92"/><circle cx="763.7" cy="180.1" r="0.71"/><circle cx="769.8" cy="162.8" r="0.77"/><circle cx="825.4" cy="209.9" r="1.06"/><circle cx="813.2" cy="238.5" r="0.95"/><circle cx="765.5" cy="175.8" r="0.75"/><circle cx="744.1" cy="174.2" r="1.03"/><circle cx="770.1" cy="219.7" r="0.96"/><circle cx="817.7" cy="221.7" r="0.82"/><circle cx="751.2" cy="224.3" r="0.69"/><circle cx="795.4" cy="185.7" r="0.82"/><circle cx="824.1" cy="168.4" r="0.82"/><circle cx="797.3" cy="200.1" r="1.06"/><circle cx="798.3" cy="200.6" r="0.74"/><circle cx="824.2" cy="162.3" r="0.63"/><circle cx="766.6" cy="231.1" r="0.51"/><circle cx="764.3" cy="215.1" r="1.09"/><circle cx="764.2" cy="215.5" r="0.77"/><circle cx="800.8" cy="217.6" r="0.95"/><circle cx="763.3" cy="176.5" r="0.52"/><circle cx="800.8" cy="172.4" r="0.66"/><circle cx="824.0" cy="209.0" r="0.85"/><circle cx="797.9" cy="205.1" r="0.92"/><circle cx="768.0" cy="160.2" r="0.54"/><circle cx="743.5" cy="185.2" r="0.59"/><circle cx="751.9" cy="196.4" r="1.08"/><circle cx="765.5" cy="219.6" r="0.61"/></g><g fill="#333" opacity="1" filter="url(#b1)"><ellipse cx="751.8" cy="159.4" rx="4" ry="2" transform="rotate(-10 751.8 159.4)"/><ellipse cx="762.2" cy="175" rx="4.5" ry="2.5" transform="rotate(-35 762.2 175)"/><ellipse cx="786.9" cy="172.4" rx="4.5" ry="2.2" transform="rotate(20 786.9 172.4)"/><ellipse cx="806.3" cy="175" rx="4" ry="2" transform="rotate(-30 806.3 175)"/><ellipse cx="811.5" cy="168.5" rx="3" ry="2" transform="rotate(0 811.5 168.5)"/><ellipse cx="759.6" cy="197" rx="5.5" ry="2.8" transform="rotate(-40 759.6 197)"/><ellipse cx="785.6" cy="195.7" rx="3.5" ry="5" transform="rotate(10 785.6 195.7)"/><ellipse cx="757" cy="204.8" rx="4" ry="2" transform="rotate(-45 757 204.8)"/><ellipse cx="793.3" cy="221.7" rx="5.5" ry="3.2" transform="rotate(-20 793.3 221.7)"/><ellipse cx="749.2" cy="213.9" rx="4" ry="1.5" transform="rotate(30 749.2 213.9)"/><ellipse cx="816.7" cy="197" rx="2.5" ry="2" transform="rotate(0 816.7 197)"/><ellipse cx="775" cy="160" rx="3" ry="1.5" transform="rotate(-20 775 160)"/><ellipse cx="800" cy="206" rx="3" ry="1.8" transform="rotate(40 800 206)"/><ellipse cx="770" cy="190" rx="4" ry="1.5" transform="rotate(-35 770 190)"/><ellipse cx="820" cy="182" rx="3" ry="2" transform="rotate(20 820 182)"/><ellipse cx="768" cy="228" rx="3.5" ry="2" transform="rotate(-20 768 228)"/><ellipse cx="806" cy="228" rx="3" ry="1.8" transform="rotate(10 806 228)"/><ellipse cx="745" cy="175" rx="2.5" ry="1.5" transform="rotate(0 745 175)"/><ellipse cx="780" cy="214" rx="3" ry="1.5" transform="rotate(-40 780 214)"/></g></g><text x="744.3" y="236" font-size="9" font-weight="bold" fill="#222">f</text></g><g clip-path="url(#c20)"><g filter="url(#t20)"><rect x="564" y="244" width="83.5" height="83" fill="#dcdcdc"/><g filter="url(#b12)"><ellipse cx="580.7" cy="260.6" rx="33.4" ry="24.9" fill="#e4e4e4" opacity="0.6"/></g><g fill="#666" opacity="0.5" filter="url(#b05)"><circle cx="572.4" cy="269.2" r="0.70"/><circle cx="621.6" cy="280.9" r="0.86"/><circle cx="571.9" cy="321.4" r="0.67"/><circle cx="633.5" cy="246.5" r="0.91"/><circle cx="582.9" cy="315.0" r="0.90"/><circle cx="620.0" cy="267.0" r="0.50"/><circle cx="579.9" cy="319.1" r="0.58"/><circle cx="619.0" cy="292.7" r="0.83"/><circle cx="579.1" cy="255.9" r="0.55"/><circle cx="646.1" cy="275.8" r="0.83"/><circle cx="611.6" cy="262.5" r="0.53"/><circle cx="565.2" cy="314.8" r="0.57"/></g></g><text x="566" y="324" font-size="9" font-weight="bold" fill="#222">g</text></g><g clip-path="url(#c21)"><g filter="url(#t21)"><rect x="652.5" y="244" width="85.0" height="83" fill="#c2c2c2"/><g filter="url(#b12)"><ellipse cx="661.0" cy="285.5" rx="21.2" ry="49.8" fill="#d4d4d4" opacity="0.9"/><ellipse cx="712.0" cy="281.4" rx="29.7" ry="41.5" fill="#aaaaaa" opacity="0.85"/></g><g fill="#555" opacity="0.5" filter="url(#b05)"><circle cx="734.4" cy="274.2" r="0.86"/><circle cx="664.3" cy="309.4" r="0.63"/><circle cx="683.6" cy="287.4" r="0.56"/><circle cx="673.6" cy="310.1" r="0.64"/><circle cx="684.9" cy="307.5" r="0.61"/><circle cx="669.0" cy="262.2" r="0.69"/><circle cx="683.6" cy="297.2" r="0.74"/><circle cx="726.4" cy="248.2" r="0.83"/><circle cx="723.6" cy="263.5" r="0.51"/><circle cx="689.8" cy="253.6" r="0.73"/><circle cx="713.0" cy="251.8" r="0.56"/><circle cx="693.3" cy="258.4" r="0.62"/><circle cx="689.9" cy="253.8" r="0.53"/><circle cx="683.2" cy="282.9" r="0.97"/><circle cx="699.7" cy="249.9" r="0.61"/><circle cx="715.8" cy="290.7" r="0.94"/><circle cx="734.3" cy="315.2" r="0.56"/><circle cx="732.7" cy="287.6" r="0.62"/><circle cx="667.0" cy="315.8" r="0.61"/><circle cx="659.6" cy="266.0" r="0.96"/><circle cx="691.7" cy="304.7" r="0.54"/><circle cx="691.0" cy="270.4" r="0.60"/><circle cx="708.8" cy="274.0" r="0.56"/><circle cx="736.2" cy="284.0" r="0.59"/><circle cx="653.4" cy="298.2" r="0.76"/><circle cx="654.6" cy="283.0" r="0.87"/><circle cx="698.2" cy="263.4" r="0.75"/><circle cx="703.9" cy="298.0" r="0.57"/><circle cx="720.8" cy="322.5" r="0.87"/><circle cx="725.4" cy="274.5" r="0.95"/><circle cx="667.9" cy="262.8" r="0.80"/><circle cx="729.1" cy="250.8" r="0.61"/><circle cx="655.6" cy="280.4" r="0.57"/><circle cx="668.8" cy="306.2" r="0.79"/><circle cx="732.4" cy="277.4" r="0.84"/><circle cx="653.6" cy="322.7" r="0.62"/><circle cx="693.0" cy="286.5" r="0.97"/><circle cx="694.3" cy="326.3" r="0.81"/><circle cx="670.9" cy="313.2" r="0.60"/><circle cx="737.5" cy="281.9" r="0.61"/><circle cx="734.2" cy="270.7" r="0.70"/><circle cx="681.7" cy="299.5" r="0.51"/><circle cx="684.3" cy="257.5" r="0.91"/><circle cx="652.5" cy="294.4" r="0.63"/><circle cx="691.1" cy="290.6" r="0.86"/><circle cx="664.2" cy="264.0" r="0.56"/><circle cx="734.1" cy="256.4" r="0.57"/><circle cx="696.9" cy="292.3" r="0.94"/><circle cx="657.3" cy="263.4" r="0.58"/><circle cx="702.3" cy="281.6" r="0.70"/></g><g fill="#1e1e1e" opacity="1" filter="url(#b1)"><ellipse cx="701.5" cy="254" rx="3.5" ry="5.2" transform="rotate(10 701.5 254)"/><ellipse cx="686.2" cy="283" rx="4.8" ry="5.5" transform="rotate(0 686.2 283)"/><ellipse cx="692.8" cy="298.5" rx="5.5" ry="6" transform="rotate(0 692.8 298.5)"/><ellipse cx="685.4" cy="313" rx="4.6" ry="4.6" transform="rotate(0 685.4 313)"/><ellipse cx="702" cy="318" rx="2.2" ry="2.2" transform="rotate(0 702 318)"/></g></g><text x="654.5" y="324" font-size="9" font-weight="bold" fill="#222">h</text></g><g clip-path="url(#c22)"><g filter="url(#t22)"><rect x="742.3" y="244" width="84.70000000000005" height="83" fill="#cbcbcb"/><g filter="url(#b12)"><ellipse cx="759.2" cy="289.6" rx="21.2" ry="33.2" fill="#a4a4a4" opacity="0.85"/><ellipse cx="810.1" cy="273.1" rx="21.2" ry="33.2" fill="#dadada" opacity="0.8"/><ellipse cx="780.4" cy="322.9" rx="25.4" ry="12.4" fill="#b8b8b8" opacity="0.6"/></g><g fill="#444" opacity="0.55" filter="url(#b05)"><circle cx="817.5" cy="298.9" r="1.02"/><circle cx="765.1" cy="322.2" r="0.74"/><circle cx="746.7" cy="319.9" r="0.56"/><circle cx="743.8" cy="268.0" r="0.67"/><circle cx="824.2" cy="316.2" r="0.75"/><circle cx="787.1" cy="314.5" r="0.98"/><circle cx="797.6" cy="286.6" r="0.57"/><circle cx="762.9" cy="298.6" r="0.85"/><circle cx="810.2" cy="318.6" r="1.08"/><circle cx="809.1" cy="319.6" r="0.75"/><circle cx="790.6" cy="259.1" r="0.92"/><circle cx="764.0" cy="263.6" r="0.72"/><circle cx="786.7" cy="300.2" r="0.54"/><circle cx="805.1" cy="295.8" r="0.78"/><circle cx="799.2" cy="310.4" r="0.51"/><circle cx="782.6" cy="300.3" r="0.93"/><circle cx="797.1" cy="259.0" r="1.08"/><circle cx="762.0" cy="279.7" r="1.07"/><circle cx="761.8" cy="280.9" r="0.75"/><circle cx="818.5" cy="263.3" r="0.94"/><circle cx="772.8" cy="299.1" r="0.96"/><circle cx="753.1" cy="262.5" r="0.63"/><circle cx="764.8" cy="247.0" r="0.58"/><circle cx="776.7" cy="278.9" r="0.55"/><circle cx="791.6" cy="322.2" r="0.85"/><circle cx="772.4" cy="302.5" r="0.76"/><circle cx="757.2" cy="284.0" r="0.51"/><circle cx="799.6" cy="257.4" r="0.72"/><circle cx="823.8" cy="307.6" r="1.00"/><circle cx="796.0" cy="302.5" r="1.08"/><circle cx="796.7" cy="302.0" r="0.76"/><circle cx="764.0" cy="312.2" r="0.86"/><circle cx="814.3" cy="316.6" r="0.85"/><circle cx="759.1" cy="245.2" r="0.82"/><circle cx="803.8" cy="266.6" r="0.54"/><circle cx="742.7" cy="258.4" r="0.92"/><circle cx="742.6" cy="263.1" r="0.66"/><circle cx="802.5" cy="325.9" r="0.51"/><circle cx="752.0" cy="321.6" r="1.08"/><circle cx="751.6" cy="321.6" r="0.76"/><circle cx="769.4" cy="278.6" r="0.79"/><circle cx="764.2" cy="248.6" r="0.55"/><circle cx="756.1" cy="251.6" r="0.87"/><circle cx="801.3" cy="265.8" r="0.98"/><circle cx="804.0" cy="272.4" r="0.80"/><circle cx="758.3" cy="321.1" r="0.84"/><circle cx="746.6" cy="256.8" r="0.92"/><circle cx="774.9" cy="303.5" r="0.64"/><circle cx="809.8" cy="310.6" r="0.56"/><circle cx="792.0" cy="259.9" r="0.92"/><circle cx="810.4" cy="309.7" r="0.64"/><circle cx="750.2" cy="299.1" r="0.84"/><circle cx="754.0" cy="260.0" r="0.85"/><circle cx="751.4" cy="296.6" r="0.64"/><circle cx="764.2" cy="279.1" r="0.82"/><circle cx="803.7" cy="246.6" r="0.93"/><circle cx="761.0" cy="268.1" r="0.88"/><circle cx="800.8" cy="295.0" r="1.04"/><circle cx="800.4" cy="295.4" r="0.73"/><circle cx="764.4" cy="257.1" r="0.64"/><circle cx="807.6" cy="312.6" r="0.93"/><circle cx="823.5" cy="309.9" r="0.69"/><circle cx="769.0" cy="303.9" r="0.53"/><circle cx="793.9" cy="251.4" r="0.53"/><circle cx="785.8" cy="256.6" r="1.06"/></g><g fill="#1e1e1e" opacity="1" filter="url(#b1)"><ellipse cx="787.5" cy="261.5" rx="4.8" ry="6" transform="rotate(0 787.5 261.5)"/><ellipse cx="820.4" cy="253.2" rx="3.5" ry="5.8" transform="rotate(0 820.4 253.2)"/><ellipse cx="790.6" cy="293" rx="4.5" ry="4.5" transform="rotate(20 790.6 293)"/><ellipse cx="786" cy="288" rx="2" ry="2" transform="rotate(0 786 288)"/><ellipse cx="795" cy="298" rx="2.2" ry="2" transform="rotate(0 795 298)"/><ellipse cx="749" cy="249.7" rx="5" ry="1.2" transform="rotate(35 749 249.7)"/><ellipse cx="746" cy="301" rx="3" ry="1.5" transform="rotate(40 746 301)"/></g></g><text x="744.3" y="324" font-size="9" font-weight="bold" fill="#222">i</text></g>
<path d="M565,253Q600,256 647,258" stroke="#c8c8c8" stroke-width="0.8" fill="none"/>
</svg></body></html>
